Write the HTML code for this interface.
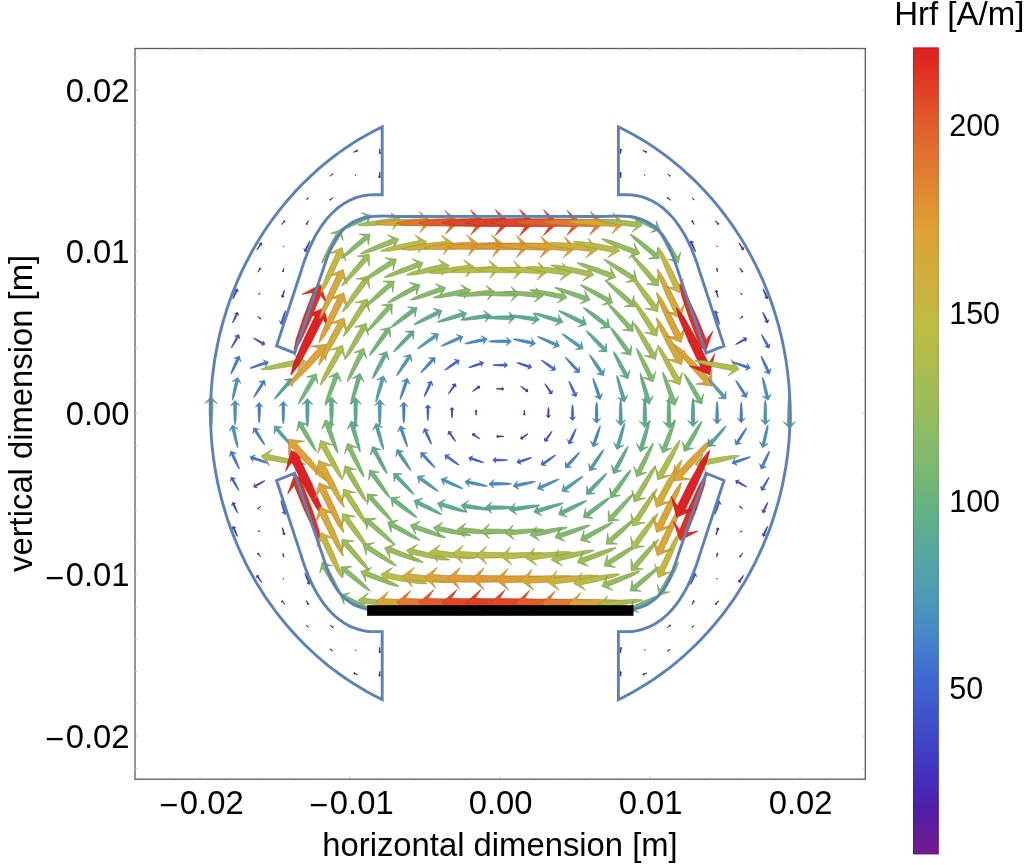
<!DOCTYPE html>
<html><head><meta charset="utf-8"><style>html,body{margin:0;padding:0;background:#fff;overflow:hidden}svg{display:block}</style></head><body>
<svg width="1025" height="865" viewBox="0 0 1025 865">
<rect width="1025" height="865" fill="#fff"/>
<g stroke-width="0.6" stroke-linejoin="round"><polygon points="211.0,396.4 217.2,403.5 212.9,400.9 212.8,412.6 212.2,424.0 211.2,428.8 210.8,428.8 209.8,424.0 209.2,412.6 209.1,400.9 204.8,403.5" fill="#66b284" stroke="#528f69"/><polygon points="232.9,526.3 235.8,527.7 234.1,527.5 235.7,531.1 237.0,534.7 237.4,536.3 237.2,536.4 236.3,535.0 234.5,531.6 232.9,528.0 232.0,529.4" fill="#3e3cb8" stroke="#2d2c87"/><polygon points="232.6,502.3 235.7,503.7 233.9,503.5 235.7,507.3 237.2,511.1 237.7,512.8 237.5,512.9 236.5,511.5 234.5,507.9 232.7,504.1 231.7,505.6" fill="#3e41bc" stroke="#2e308c"/><polygon points="231.3,477.1 235.5,478.7 233.1,478.6 235.8,483.4 238.2,488.3 239.0,490.5 238.8,490.6 237.3,488.8 234.4,484.3 231.6,479.5 230.4,481.5" fill="#405ccf" stroke="#334aa5"/><polygon points="230.9,451.1 236.2,453.5 233.1,453.2 236.1,459.6 238.7,466.1 239.4,469.0 239.1,469.1 237.4,466.7 234.1,460.6 231.1,454.1 229.4,456.7" fill="#447acd" stroke="#3662a4"/><polygon points="232.4,425.0 237.9,429.0 234.5,427.9 236.3,436.1 237.8,444.1 237.9,447.7 237.6,447.7 236.1,444.5 233.9,436.6 231.9,428.5 229.3,431.0" fill="#4b92bf" stroke="#3c7499"/><polygon points="235.1,400.4 239.7,405.7 236.5,403.8 236.4,412.6 236.0,421.2 235.2,424.8 235.0,424.8 234.2,421.2 233.8,412.6 233.7,403.8 230.5,405.7" fill="#4e97b8" stroke="#3e7993"/><polygon points="237.8,377.5 240.9,383.5 238.3,381.0 236.3,389.1 234.1,397.0 232.6,400.2 232.3,400.2 232.4,396.6 233.9,388.6 235.7,380.4 232.3,381.5" fill="#4b92bf" stroke="#3c7499"/><polygon points="239.3,356.1 240.8,361.7 239.1,359.1 236.1,365.6 232.8,371.7 231.1,374.1 230.8,374.0 231.5,371.1 234.1,364.6 237.1,358.2 234.0,358.5" fill="#447acd" stroke="#3662a4"/><polygon points="238.9,334.6 239.8,339.0 238.6,337.0 235.8,341.8 232.9,346.3 231.4,348.1 231.2,348.0 232.0,345.8 234.4,340.9 237.1,336.1 234.7,336.2" fill="#405ccf" stroke="#334aa5"/><polygon points="237.6,312.3 238.5,315.6 237.5,314.1 235.7,317.9 233.7,321.5 232.7,322.9 232.5,322.8 233.0,321.1 234.5,317.3 236.3,313.5 234.5,313.7" fill="#3e41bc" stroke="#2e308c"/><polygon points="237.3,288.8 238.2,291.9 237.3,290.5 235.7,294.1 233.9,297.5 233.0,298.9 232.8,298.8 233.2,297.2 234.5,293.6 236.1,290.0 234.4,290.2" fill="#3e3cb8" stroke="#2d2c87"/><polygon points="256.9,575.3 259.2,576.0 257.9,576.1 259.6,578.6 261.1,581.1 261.6,582.3 261.5,582.4 260.6,581.5 258.8,579.1 257.1,576.6 256.6,577.8" fill="#402aa9" stroke="#2c1d75"/><polygon points="257.8,553.1 259.2,553.4 258.4,553.5 259.4,554.9 260.3,556.4 260.7,557.1 260.6,557.1 260.1,556.6 259.0,555.3 257.9,553.8 257.6,554.5" fill="#4b198d" stroke="#301059"/><polygon points="258.3,530.8 258.9,530.7 258.6,530.8 259.3,531.2 259.9,531.7 260.1,531.9 260.1,531.9 259.8,531.8 259.1,531.5 258.5,531.1 258.5,531.4" fill="#5e1778" stroke="#370d46"/><polygon points="257.8,508.9 257.9,507.8 258.1,508.4 259.1,507.4 260.1,506.6 260.6,506.3 260.6,506.3 260.3,506.8 259.3,507.8 258.4,508.7 258.9,508.9" fill="#541884" stroke="#330f51"/><polygon points="253.6,487.0 254.8,483.5 254.8,485.5 258.8,483.2 262.9,481.2 264.8,480.6 264.9,480.7 263.4,482.0 259.6,484.5 255.5,486.8 257.3,487.8" fill="#3d4bc2" stroke="#2f3a95"/><polygon points="250.0,457.0 255.3,454.9 253.0,456.8 259.5,459.1 265.8,461.6 268.4,463.1 268.3,463.4 265.4,463.0 258.9,461.1 252.2,458.9 252.9,461.8" fill="#4378cf" stroke="#3660a5"/><polygon points="253.8,427.8 259.4,429.5 256.3,429.6 260.1,435.8 263.6,442.0 264.7,444.8 264.5,445.0 262.4,442.7 258.3,436.9 254.3,430.8 252.9,433.6" fill="#457ecc" stroke="#3765a3"/><polygon points="259.2,402.5 263.0,406.9 260.4,405.3 260.3,412.6 259.9,419.7 259.3,422.7 259.1,422.7 258.5,419.7 258.1,412.6 258.0,405.3 255.4,406.9" fill="#457ecc" stroke="#3765a3"/><polygon points="264.6,380.3 265.5,386.1 264.1,383.3 260.1,389.4 256.0,395.2 253.9,397.5 253.7,397.3 254.8,394.5 258.3,388.3 262.1,382.1 259.0,382.0" fill="#457ecc" stroke="#3765a3"/><polygon points="268.4,362.0 265.5,366.8 266.2,363.9 259.5,366.1 253.0,368.0 250.1,368.4 250.0,368.1 252.6,366.6 258.9,364.1 265.4,361.8 263.1,359.9" fill="#4378cf" stroke="#3660a5"/><polygon points="264.8,344.5 261.1,345.3 262.9,344.3 258.8,342.0 255.0,339.5 253.5,338.2 253.6,338.1 255.5,338.7 259.6,340.7 263.6,343.0 263.6,341.0" fill="#3d4bc2" stroke="#2f3a95"/><polygon points="260.6,318.9 259.5,318.9 260.0,318.7 259.1,317.8 258.1,316.8 257.8,316.3 257.8,316.3 258.3,316.6 259.3,317.4 260.3,318.4 260.5,317.8" fill="#541884" stroke="#330f51"/><polygon points="260.1,293.3 259.9,293.9 259.9,293.6 259.3,294.0 258.6,294.3 258.3,294.4 258.3,294.4 258.5,294.2 259.1,293.7 259.8,293.3 259.5,293.2" fill="#5e1778" stroke="#370d46"/><polygon points="260.6,268.1 260.8,269.5 260.5,268.8 259.4,270.3 258.3,271.6 257.8,272.1 257.7,272.1 258.1,271.4 259.0,269.9 260.0,268.5 259.2,268.4" fill="#4b198d" stroke="#301059"/><polygon points="261.5,242.8 261.8,245.3 261.3,244.1 259.6,246.6 257.8,249.0 256.9,249.9 256.8,249.8 257.3,248.6 258.8,246.1 260.5,243.6 259.2,243.5" fill="#402aa9" stroke="#2c1d75"/><polygon points="281.7,600.8 283.1,601.0 282.3,601.1 283.5,602.4 284.6,603.7 285.0,604.3 284.9,604.4 284.3,603.9 283.1,602.8 281.9,601.5 281.7,602.2" fill="#4d198c" stroke="#301058"/><polygon points="282.8,579.0 283.0,578.7 282.9,578.9 283.3,578.8 283.6,578.7 283.8,578.7 283.8,578.7 283.7,578.8 283.3,578.9 283.0,579.0 283.1,579.1" fill="#5e1674" stroke="#360c42"/><polygon points="283.6,557.0 282.8,556.3 283.3,556.5 283.1,555.1 282.9,553.8 283.0,553.2 283.0,553.2 283.2,553.7 283.5,555.1 283.8,556.4 284.2,556.0" fill="#531885" stroke="#330f52"/><polygon points="284.3,535.0 282.5,533.8 283.6,534.1 282.9,531.5 282.3,528.8 282.2,527.7 282.3,527.7 282.9,528.7 283.7,531.2 284.5,533.9 285.3,533.0" fill="#4125a3" stroke="#2c196e"/><polygon points="285.5,514.6 281.9,512.3 284.1,512.9 282.5,507.8 281.2,502.9 281.0,500.7 281.1,500.6 282.2,502.6 284.1,507.4 285.7,512.4 287.2,510.6" fill="#3f57cb" stroke="#3245a1"/><polygon points="261.2,455.9 272.5,449.3 267.9,454.5 283.8,457.7 299.1,461.5 305.5,464.1 305.4,464.6 298.5,464.7 282.8,462.5 266.9,459.6 269.3,466.1" fill="#adbd4f" stroke="#8a973f"/><polygon points="274.4,426.1 282.2,427.2 278.1,427.9 284.4,435.4 290.3,442.9 292.3,446.5 292.1,446.7 288.8,444.2 282.2,437.3 275.7,430.0 274.4,434.0" fill="#54a3a7" stroke="#438286"/><polygon points="283.3,401.4 287.6,406.3 284.6,404.5 284.5,412.6 284.1,420.5 283.4,423.8 283.2,423.8 282.5,420.5 282.1,412.6 282.0,404.5 279.0,406.3" fill="#498dc4" stroke="#3a719d"/><polygon points="292.2,378.6 292.2,386.5 290.9,382.5 284.4,389.8 277.8,396.7 274.5,399.2 274.3,399.0 276.3,395.4 282.2,387.9 288.5,380.4 284.4,379.7" fill="#54a3a7" stroke="#438286"/><polygon points="305.4,360.9 297.3,371.1 299.7,364.6 283.8,367.5 268.1,369.7 261.2,369.6 261.1,369.1 267.5,366.5 282.8,362.7 298.7,359.5 294.1,354.3" fill="#adbd4f" stroke="#8a973f"/><polygon points="281.1,324.6 279.4,320.6 280.9,322.4 282.5,317.4 284.4,312.6 285.5,310.6 285.6,310.7 285.4,312.9 284.1,317.8 282.5,322.9 284.7,322.3" fill="#3f57cb" stroke="#3245a1"/><polygon points="282.3,297.5 281.3,295.5 282.1,296.4 282.9,293.7 283.7,291.2 284.3,290.2 284.4,290.2 284.3,291.3 283.7,294.0 283.0,296.6 284.1,296.3" fill="#4125a3" stroke="#2c196e"/><polygon points="283.0,272.0 282.4,271.0 282.8,271.4 283.1,270.1 283.4,268.7 283.6,268.2 283.6,268.2 283.7,268.8 283.5,270.1 283.3,271.5 283.8,271.3" fill="#531885" stroke="#330f52"/><polygon points="283.8,246.5 283.5,246.6 283.6,246.5 283.3,246.4 282.9,246.3 282.8,246.2 282.8,246.2 283.0,246.2 283.3,246.3 283.7,246.4 283.6,246.2" fill="#5e1674" stroke="#360c42"/><polygon points="284.9,220.8 284.9,222.2 284.7,221.5 283.5,222.8 282.3,223.9 281.7,224.4 281.6,224.3 282.0,223.7 283.1,222.4 284.3,221.1 283.5,221.0" fill="#4d198c" stroke="#301058"/><polygon points="306.4,625.4 307.2,625.4 306.8,625.6 307.5,626.2 308.2,626.9 308.5,627.3 308.4,627.3 308.1,627.1 307.3,626.5 306.5,625.8 306.5,626.2" fill="#5a177d" stroke="#360e4a"/><polygon points="308.4,604.6 307.2,604.1 307.9,604.2 307.2,602.7 306.5,601.3 306.4,600.6 306.4,600.6 306.8,601.1 307.6,602.5 308.4,603.9 308.7,603.3" fill="#4e198a" stroke="#311056"/><polygon points="309.9,584.4 306.7,582.9 308.6,583.1 306.8,579.1 305.2,575.1 304.8,573.3 305.0,573.3 306.0,574.8 308.0,578.6 309.9,582.6 310.9,581.0" fill="#3e45be" stroke="#2e348f"/><polygon points="294.4,474.7 312.6,484.2 301.8,482.4 311.0,506.2 318.9,529.7 320.8,540.3 320.0,540.6 314.2,531.5 303.8,509.0 294.2,485.4 287.6,494.1" fill="#e03024" stroke="#b3271d"/><polygon points="291.0,450.5 310.9,459.0 299.5,458.0 311.1,482.1 321.2,506.0 324.1,517.0 323.4,517.3 316.4,508.3 303.7,485.6 291.8,461.8 285.6,471.4" fill="#dc2222" stroke="#b01b1b"/><polygon points="288.4,439.2 304.7,441.2 296.1,442.9 309.7,458.0 322.2,473.3 326.7,480.8 326.2,481.2 319.2,476.1 305.1,462.2 291.3,447.3 288.8,455.6" fill="#dea236" stroke="#b2812b"/><polygon points="298.6,421.3 308.2,424.6 302.8,424.5 309.1,435.4 314.6,446.3 316.4,451.3 316.0,451.5 312.5,447.5 305.7,437.3 299.3,426.5 296.8,431.2" fill="#73b877" stroke="#5c935f"/><polygon points="307.4,398.4 312.8,404.7 309.0,402.4 309.0,412.6 308.4,422.5 307.6,426.8 307.2,426.8 306.4,422.5 305.8,412.6 305.8,402.4 302.0,404.7" fill="#57a79f" stroke="#45857f"/><polygon points="316.2,373.8 318.0,383.7 315.5,379.0 309.1,389.8 302.3,400.0 298.8,404.0 298.4,403.8 300.2,398.8 305.7,387.9 312.0,377.0 306.6,377.1" fill="#73b877" stroke="#5c935f"/><polygon points="326.4,344.2 326.0,360.6 323.5,352.3 309.7,367.2 295.6,381.1 288.6,386.2 288.1,385.8 292.6,378.3 305.1,363.0 318.7,347.9 310.1,346.2" fill="#dea236" stroke="#b2812b"/><polygon points="323.8,308.0 329.2,328.9 323.0,319.3 311.1,343.1 298.4,365.8 291.4,374.8 290.7,374.5 293.6,363.5 303.7,339.6 315.3,315.5 303.9,316.5" fill="#dc2222" stroke="#b01b1b"/><polygon points="320.4,284.7 327.2,304.1 320.6,295.4 311.0,319.0 300.6,341.5 294.8,350.6 294.0,350.3 295.9,339.7 303.8,316.2 313.0,292.4 302.2,294.2" fill="#e03024" stroke="#b3271d"/><polygon points="304.9,251.9 303.9,248.5 304.9,250.1 306.8,246.1 308.8,242.3 309.8,240.8 310.0,240.8 309.6,242.6 308.0,246.6 306.2,250.6 308.1,250.4" fill="#3e45be" stroke="#2e348f"/><polygon points="306.4,224.6 306.1,223.3 306.4,223.9 307.2,222.5 308.0,221.1 308.4,220.6 308.4,220.6 308.3,221.3 307.6,222.7 306.9,224.2 307.6,224.1" fill="#4e198a" stroke="#311056"/><polygon points="308.4,197.9 308.3,198.7 308.3,198.3 307.5,199.0 306.7,199.6 306.4,199.8 306.3,199.8 306.6,199.4 307.3,198.7 308.0,198.1 307.6,197.9" fill="#5a177d" stroke="#360e4a"/><polygon points="330.2,649.1 331.2,649.0 330.7,649.2 331.6,650.0 332.5,650.7 332.8,651.1 332.7,651.2 332.3,650.9 331.4,650.2 330.5,649.5 330.4,650.0" fill="#571880" stroke="#350e4d"/><polygon points="333.2,627.5 332.0,627.6 332.6,627.4 331.4,626.5 330.3,625.6 329.8,625.2 329.9,625.1 330.4,625.4 331.6,626.2 332.8,627.0 332.9,626.4" fill="#521886" stroke="#320f53"/><polygon points="322.0,562.1 332.5,565.9 326.6,565.7 333.3,577.8 339.4,589.9 341.2,595.4 340.8,595.7 337.0,591.2 329.7,579.9 322.7,567.9 319.8,573.1" fill="#8abb66" stroke="#6f9652"/><polygon points="321.0,532.5 334.2,538.5 326.5,537.6 334.0,553.9 340.5,570.1 342.3,577.6 341.8,577.8 337.2,571.7 329.0,556.3 321.3,540.1 317.0,546.5" fill="#c4b841" stroke="#9c9334"/><polygon points="319.9,506.9 334.3,513.2 326.0,512.4 334.2,530.1 341.4,547.6 343.4,555.7 342.8,555.9 337.9,549.3 328.8,532.6 320.3,515.1 315.7,522.1" fill="#d5a93a" stroke="#aa872e"/><polygon points="319.2,482.7 334.1,489.0 325.5,488.3 334.2,506.3 341.9,524.1 344.1,532.3 343.5,532.6 338.3,525.9 328.8,508.9 319.8,491.1 315.2,498.3" fill="#daa538" stroke="#ae842c"/><polygon points="318.8,460.4 333.3,465.9 325.1,465.5 334.1,482.5 342.1,499.4 344.4,507.2 343.9,507.5 338.7,501.2 328.9,485.2 319.7,468.4 315.5,475.5" fill="#d2ac3b" stroke="#a8892f"/><polygon points="320.4,440.3 332.8,444.8 325.8,444.5 333.7,458.9 340.7,473.2 342.8,479.8 342.3,480.1 337.8,474.8 329.3,461.3 321.2,447.1 317.8,453.2" fill="#afbd4d" stroke="#8c973e"/><polygon points="325.3,419.7 334.4,424.7 329.0,423.6 333.3,435.7 337.0,447.6 337.9,452.9 337.5,453.1 334.6,448.5 329.7,437.0 325.1,425.1 321.7,429.4" fill="#78b973" stroke="#60945c"/><polygon points="331.5,396.9 337.4,403.8 333.3,401.3 333.2,412.6 332.6,423.6 331.7,428.3 331.3,428.3 330.4,423.6 329.8,412.6 329.7,401.3 325.6,403.8" fill="#60b08a" stroke="#4d8c6f"/><polygon points="337.7,372.2 341.3,381.9 337.9,377.6 333.3,389.5 328.4,401.0 325.5,405.6 325.1,405.4 326.0,400.1 329.7,388.2 334.0,376.1 328.6,377.2" fill="#78b973" stroke="#60945c"/><polygon points="342.6,345.3 345.2,358.2 341.8,352.1 333.7,366.3 325.2,379.8 320.7,385.1 320.2,384.8 322.3,378.2 329.3,363.9 337.2,349.5 330.2,349.8" fill="#afbd4d" stroke="#8c973e"/><polygon points="344.2,317.9 347.5,333.0 343.3,325.9 334.1,342.7 324.3,358.7 319.1,365.0 318.6,364.7 320.9,356.9 328.9,340.0 337.9,323.0 329.7,323.4" fill="#d2ac3b" stroke="#a8892f"/><polygon points="343.8,292.7 347.8,308.3 343.2,301.1 334.2,318.9 324.7,335.9 319.5,342.6 318.9,342.3 321.1,334.1 328.8,316.3 337.5,298.3 328.9,299.0" fill="#daa538" stroke="#ae842c"/><polygon points="343.1,269.4 347.3,284.6 342.7,277.6 334.2,295.1 325.1,311.8 320.2,318.4 319.6,318.2 321.6,310.1 328.8,292.6 337.0,274.9 328.7,275.7" fill="#d5a93a" stroke="#aa872e"/><polygon points="342.0,247.5 346.0,261.5 341.7,255.1 334.0,271.3 325.8,286.7 321.2,292.8 320.7,292.6 322.5,285.1 329.0,268.9 336.5,252.6 328.8,253.5" fill="#c4b841" stroke="#9c9334"/><polygon points="341.0,229.6 343.2,240.6 340.3,235.4 333.3,247.4 326.0,258.7 322.2,263.2 321.8,262.9 323.6,257.4 329.7,245.3 336.4,233.2 330.5,233.4" fill="#8abb66" stroke="#6f9652"/><polygon points="329.8,200.0 330.1,198.9 330.2,199.5 331.4,198.7 332.6,197.9 333.1,197.6 333.2,197.7 332.7,198.1 331.6,199.0 330.4,199.9 331.0,200.1" fill="#521886" stroke="#320f53"/><polygon points="332.8,174.1 332.6,175.0 332.5,174.5 331.6,175.2 330.7,175.9 330.3,176.2 330.2,176.1 330.5,175.7 331.4,175.0 332.3,174.2 331.8,174.0" fill="#571880" stroke="#350e4d"/><polygon points="353.6,673.0 354.8,672.6 354.2,673.0 355.7,673.6 357.1,674.3 357.6,674.6 357.6,674.7 357.0,674.6 355.5,674.1 354.1,673.5 354.2,674.2" fill="#501988" stroke="#320f55"/><polygon points="356.0,650.6 355.6,650.5 355.8,650.5 355.5,650.1 355.3,649.8 355.2,649.6 355.2,649.6 355.4,649.8 355.7,650.1 355.9,650.4 356.0,650.2" fill="#5f1675" stroke="#360d42"/><polygon points="340.2,595.3 349.8,592.7 345.4,595.5 356.4,600.9 366.9,606.6 371.1,609.7 370.9,610.1 365.8,608.8 354.8,604.3 343.7,599.1 344.2,604.3" fill="#6fb67b" stroke="#599262"/><polygon points="341.1,566.7 352.1,566.5 346.6,568.4 356.9,577.3 366.6,586.3 370.3,590.8 370.0,591.2 364.9,588.4 354.3,580.4 343.7,571.8 342.8,577.5" fill="#86bb69" stroke="#6c9554"/><polygon points="341.9,539.3 353.9,541.1 347.6,542.2 357.3,553.6 366.3,565.1 369.5,570.7 369.1,571.0 364.0,567.1 353.9,556.6 343.9,545.3 341.9,551.5" fill="#9cbc5a" stroke="#7d9748"/><polygon points="342.6,513.5 355.1,516.4 348.3,517.0 357.6,529.9 366.0,542.9 368.8,549.1 368.4,549.4 363.4,544.8 353.6,532.8 344.2,520.0 341.5,526.3" fill="#a9bd52" stroke="#879741"/><polygon points="343.5,489.0 355.9,492.6 349.0,492.8 357.6,506.3 365.4,519.8 368.0,526.1 367.5,526.4 362.8,521.5 353.6,508.9 344.7,495.6 341.7,501.8" fill="#aabd51" stroke="#889741"/><polygon points="344.9,465.7 356.5,469.6 350.0,469.6 357.6,482.7 364.4,495.8 366.6,501.8 366.1,502.1 361.8,497.3 353.6,485.0 345.8,472.0 342.7,477.8" fill="#9ebc59" stroke="#7f9747"/><polygon points="347.3,443.3 357.3,447.6 351.6,447.1 357.4,459.2 362.6,471.3 364.1,476.8 363.7,477.0 360.2,472.4 353.8,461.0 347.7,449.0 344.6,453.8" fill="#84ba6b" stroke="#699555"/><polygon points="351.1,420.9 358.9,426.0 354.1,424.7 357.3,435.9 359.9,446.9 360.3,451.8 359.9,451.9 357.7,447.5 353.9,436.8 350.5,425.7 347.2,429.4" fill="#65b285" stroke="#518e6b"/><polygon points="355.6,397.6 361.3,404.2 357.3,401.8 357.2,412.6 356.7,423.1 355.8,427.6 355.4,427.6 354.5,423.1 354.0,412.6 353.9,401.8 349.9,404.2" fill="#5aac93" stroke="#488976"/><polygon points="360.1,373.4 364.0,381.9 360.7,378.2 357.3,389.3 353.5,400.0 351.3,404.4 350.9,404.3 351.3,399.4 353.9,388.4 357.1,377.2 352.3,378.5" fill="#65b285" stroke="#518e6b"/><polygon points="363.9,348.3 366.6,358.8 363.5,354.0 357.4,366.0 351.0,377.4 347.5,382.0 347.1,381.8 348.6,376.3 353.8,364.2 359.6,352.1 353.9,352.6" fill="#84ba6b" stroke="#699555"/><polygon points="366.3,323.2 368.5,335.3 365.4,329.5 357.6,342.5 349.4,354.8 345.1,359.6 344.6,359.3 346.8,353.3 353.6,340.2 361.2,327.1 354.7,327.1" fill="#9ebc59" stroke="#7f9747"/><polygon points="367.7,299.0 369.5,311.8 366.5,305.6 357.6,318.9 348.4,331.5 343.7,336.4 343.2,336.1 345.8,329.8 353.6,316.3 362.2,302.8 355.3,302.6" fill="#aabd51" stroke="#889741"/><polygon points="368.6,276.0 369.7,288.8 367.0,282.5 357.6,295.3 347.8,307.3 342.8,311.9 342.4,311.6 345.2,305.4 353.6,292.4 362.9,279.5 356.1,278.9" fill="#a9bd52" stroke="#879741"/><polygon points="369.3,254.3 369.3,266.5 367.3,260.3 357.3,271.6 347.2,282.1 342.1,286.0 341.7,285.7 344.9,280.1 353.9,268.6 363.6,257.2 357.3,256.1" fill="#9cbc5a" stroke="#7d9748"/><polygon points="370.1,234.2 368.4,245.0 367.5,239.3 356.9,247.9 346.3,255.9 341.2,258.7 340.9,258.3 344.6,253.8 354.3,244.8 364.6,235.9 359.1,234.0" fill="#86bb69" stroke="#6c9554"/><polygon points="371.0,215.3 367.0,224.3 367.5,219.1 356.4,224.3 345.4,228.8 340.3,230.1 340.1,229.7 344.3,226.6 354.8,220.9 365.8,215.5 361.4,212.7" fill="#6fb67b" stroke="#599262"/><polygon points="355.2,175.6 355.2,175.2 355.3,175.4 355.5,175.1 355.8,174.8 356.0,174.6 356.0,174.6 355.9,174.8 355.7,175.1 355.4,175.5 355.6,175.5" fill="#5f1675" stroke="#360d42"/><polygon points="357.6,150.5 357.0,151.7 357.1,151.0 355.7,151.6 354.2,152.1 353.6,152.2 353.6,152.1 354.1,151.8 355.5,151.1 357.0,150.5 356.4,150.1" fill="#501988" stroke="#320f55"/><polygon points="379.2,697.5 379.5,697.4 379.4,697.5 379.7,697.5 380.0,697.6 380.2,697.7 380.2,697.7 380.0,697.7 379.7,697.7 379.3,697.6 379.4,697.7" fill="#5e1674" stroke="#350c42"/><polygon points="379.5,676.4 378.6,675.2 379.3,675.6 379.4,673.8 379.7,672.1 379.9,671.3 379.9,671.3 380.0,672.1 380.0,673.9 379.8,675.7 380.5,675.3" fill="#4b198e" stroke="#2f105a"/><polygon points="379.9,653.0 378.7,651.8 379.5,652.2 379.4,650.1 379.4,648.1 379.5,647.2 379.6,647.2 379.8,648.0 380.0,650.1 380.1,652.2 380.9,651.7" fill="#451a94" stroke="#2d1160"/><polygon points="357.9,600.1 368.5,592.9 364.3,598.3 380.0,600.2 395.1,602.8 401.5,604.8 401.4,605.3 394.8,605.9 379.4,605.0 363.7,603.3 366.6,609.5" fill="#a7bd53" stroke="#859742"/><polygon points="360.7,571.4 371.9,567.4 366.9,571.3 380.5,576.8 393.6,582.7 398.8,586.1 398.6,586.6 392.5,585.5 378.9,580.9 365.1,575.7 366.2,581.9" fill="#98bc5d" stroke="#79974a"/><polygon points="363.0,544.3 374.5,542.7 368.9,545.4 380.9,553.3 392.2,561.4 396.5,565.7 396.3,566.1 390.6,563.8 378.5,556.9 366.4,549.3 366.3,555.4" fill="#92bc61" stroke="#75964d"/><polygon points="365.1,518.5 376.4,518.6 370.7,520.4 381.1,529.7 390.8,539.3 394.4,544.0 394.1,544.4 389.0,541.4 378.3,533.0 367.7,523.8 366.7,529.7" fill="#8dbc64" stroke="#719650"/><polygon points="367.2,493.8 377.9,495.1 372.3,496.2 381.2,506.2 389.5,516.4 392.4,521.3 392.0,521.6 387.5,518.2 378.2,509.0 369.1,499.1 367.4,504.6" fill="#83ba6b" stroke="#699556"/><polygon points="369.5,469.9 379.3,472.2 374.0,472.6 381.2,482.7 387.8,492.9 390.0,497.7 389.7,498.0 385.8,494.4 378.2,485.0 370.8,474.9 368.7,479.9" fill="#72b778" stroke="#5b9260"/><polygon points="372.4,446.5 380.8,449.7 376.0,449.4 381.2,459.3 385.8,469.1 387.1,473.7 386.8,473.8 383.8,470.2 378.2,460.9 372.9,451.1 370.4,455.2" fill="#5eaf8c" stroke="#4b8c70"/><polygon points="375.9,423.2 382.6,427.5 378.5,426.4 381.1,435.9 383.3,445.3 383.7,449.5 383.4,449.6 381.4,445.9 378.3,436.8 375.4,427.3 372.6,430.4" fill="#55a4a5" stroke="#448384"/><polygon points="379.7,399.6 384.6,405.3 381.2,403.3 381.1,412.6 380.6,421.7 379.9,425.6 379.5,425.6 378.8,421.7 378.3,412.6 378.2,403.3 374.8,405.3" fill="#519faf" stroke="#417f8c"/><polygon points="383.5,375.7 386.8,382.9 384.0,379.8 381.1,389.3 378.0,398.4 376.0,402.1 375.7,402.0 376.1,397.8 378.3,388.4 380.9,378.9 376.8,380.0" fill="#55a4a5" stroke="#448384"/><polygon points="387.0,351.5 389.0,360.2 386.5,356.1 381.2,365.9 375.6,375.2 372.6,378.8 372.3,378.7 373.6,374.1 378.2,364.3 383.4,354.4 378.6,354.7" fill="#5eaf8c" stroke="#4b8c70"/><polygon points="389.9,327.4 390.7,337.4 388.6,332.4 381.2,342.5 373.6,351.9 369.7,355.5 369.4,355.2 371.6,350.4 378.2,340.2 385.4,330.1 380.1,329.7" fill="#72b778" stroke="#5b9260"/><polygon points="392.2,303.8 392.0,314.6 390.3,309.1 381.2,319.0 371.9,328.2 367.4,331.6 367.0,331.3 369.9,326.4 378.2,316.2 387.1,306.2 381.5,305.1" fill="#83ba6b" stroke="#699556"/><polygon points="394.3,281.0 392.7,292.2 391.7,286.3 381.1,295.5 370.4,303.9 365.3,306.9 365.0,306.5 368.6,301.8 378.3,292.2 388.7,282.9 383.0,281.1" fill="#8dbc64" stroke="#719650"/><polygon points="396.4,259.3 393.1,270.4 393.0,264.3 380.9,271.9 368.8,278.8 363.1,281.1 362.9,280.7 367.2,276.4 378.5,268.3 390.5,260.4 384.9,257.7" fill="#92bc61" stroke="#75964d"/><polygon points="398.7,238.9 393.2,249.4 394.3,243.2 380.5,248.4 366.9,253.0 360.8,254.1 360.6,253.6 365.8,250.2 378.9,244.3 392.5,238.8 387.5,234.9" fill="#98bc5d" stroke="#79974a"/><polygon points="401.5,220.1 392.8,229.5 395.7,223.3 380.0,225.0 364.6,225.9 358.0,225.3 357.9,224.8 364.3,222.8 379.4,220.2 395.1,218.3 390.9,212.9" fill="#a7bd53" stroke="#859742"/><polygon points="379.5,178.0 378.5,176.7 379.3,177.2 379.4,175.1 379.6,173.0 379.8,172.2 379.9,172.2 380.0,173.1 380.0,175.1 379.9,177.2 380.7,176.8" fill="#451a94" stroke="#2d1160"/><polygon points="379.9,153.9 378.9,152.8 379.6,153.2 379.4,151.4 379.4,149.6 379.5,148.8 379.5,148.8 379.7,149.6 380.0,151.3 380.1,153.1 380.8,152.7" fill="#4b198e" stroke="#2f105a"/><polygon points="375.9,601.6 388.5,591.5 383.8,598.7 403.9,599.5 423.4,601.3 431.7,603.2 431.7,603.9 423.3,605.3 403.7,605.7 383.6,605.1 387.8,612.7" fill="#dba437" stroke="#b0832c"/><polygon points="380.8,574.3 392.7,567.5 387.8,572.9 404.3,576.3 420.2,580.4 426.9,583.2 426.8,583.7 419.6,583.7 403.3,581.4 386.7,578.2 389.2,585.0" fill="#b7bd48" stroke="#92973a"/><polygon points="384.5,547.8 395.7,543.7 390.7,547.6 404.6,553.0 417.9,558.8 423.2,562.1 423.1,562.6 416.8,561.6 403.0,557.2 389.0,552.1 390.2,558.4" fill="#9abc5b" stroke="#7b9749"/><polygon points="387.6,522.3 398.2,520.1 393.2,523.0 404.8,529.6 415.8,536.5 420.1,540.2 419.9,540.6 414.5,538.8 402.8,533.1 391.1,526.7 391.3,532.4" fill="#81ba6c" stroke="#679557"/><polygon points="390.6,497.5 400.2,496.9 395.4,498.8 404.9,506.1 413.8,513.7 417.1,517.5 416.9,517.8 412.3,515.6 402.7,509.1 393.1,501.9 392.6,507.0" fill="#6ab480" stroke="#559066"/><polygon points="393.6,473.3 402.1,474.1 397.7,475.1 405.0,482.7 411.7,490.5 414.1,494.3 413.9,494.5 410.2,492.0 402.6,485.0 395.2,477.5 394.1,481.8" fill="#59aa97" stroke="#478879"/><polygon points="396.8,449.5 403.9,451.5 400.0,451.7 405.0,459.3 409.5,467.0 411.0,470.6 410.7,470.8 408.0,468.0 402.6,460.9 397.5,453.3 395.8,456.8" fill="#509cb2" stroke="#407d8f"/><polygon points="400.2,425.8 405.8,429.1 402.4,428.4 405.0,436.0 407.1,443.5 407.5,446.8 407.3,446.9 405.6,444.0 402.6,436.7 400.0,429.2 397.8,431.8" fill="#488cc5" stroke="#3a709e"/><polygon points="403.8,402.1 407.8,406.7 405.0,405.1 405.0,412.6 404.6,419.9 403.9,423.1 403.7,423.1 403.0,419.9 402.6,412.6 402.6,405.1 399.8,406.7" fill="#4684ca" stroke="#3869a2"/><polygon points="407.4,378.3 409.8,384.3 407.6,381.7 405.0,389.2 402.0,396.5 400.3,399.4 400.1,399.3 400.5,396.0 402.6,388.5 405.2,380.9 401.8,381.6" fill="#488cc5" stroke="#3a709e"/><polygon points="410.8,354.5 411.8,361.8 410.1,358.3 405.0,365.9 399.6,373.0 396.9,375.8 396.6,375.6 398.1,372.0 402.6,364.3 407.6,356.7 403.7,356.5" fill="#509cb2" stroke="#407d8f"/><polygon points="414.0,330.8 413.5,339.3 412.4,335.0 405.0,342.5 397.4,349.5 393.7,352.0 393.5,351.8 395.9,348.0 402.6,340.2 409.9,332.6 405.5,331.6" fill="#59aa97" stroke="#478879"/><polygon points="417.0,307.5 415.0,317.0 414.5,311.9 404.9,319.1 395.3,325.6 390.7,327.8 390.5,327.5 393.8,323.7 402.7,316.1 412.2,308.8 407.4,306.9" fill="#6ab480" stroke="#559066"/><polygon points="420.0,284.8 416.3,294.9 416.5,289.2 404.8,295.6 393.1,301.3 387.7,303.1 387.5,302.7 391.8,299.0 402.8,292.1 414.4,285.5 409.4,282.6" fill="#81ba6c" stroke="#679557"/><polygon points="423.1,262.8 417.4,273.4 418.6,267.1 404.6,272.2 390.8,276.6 384.5,277.6 384.4,277.1 389.7,273.8 403.0,268.0 416.9,262.6 411.9,258.7" fill="#9abc5b" stroke="#7b9749"/><polygon points="426.8,241.8 418.4,252.5 420.9,245.7 404.3,248.9 388.0,251.2 380.8,251.2 380.7,250.7 387.4,247.9 403.3,243.8 419.8,240.4 414.9,235.0" fill="#b7bd48" stroke="#92973a"/><polygon points="431.7,221.6 419.8,232.7 424.0,225.1 403.9,225.7 384.3,225.3 375.9,223.9 375.9,223.2 384.2,221.3 403.7,219.5 423.8,218.7 419.1,211.5" fill="#dba437" stroke="#b0832c"/><polygon points="396.8,601.9 410.7,590.4 405.6,598.5 428.0,599.2 449.7,600.8 459.0,602.9 459.0,603.7 449.6,605.3 427.8,606.0 405.4,605.7 410.2,614.0" fill="#e17a30" stroke="#b46126"/><polygon points="402.1,575.9 414.5,567.4 409.6,573.8 428.2,576.0 446.2,579.0 453.8,581.5 453.7,582.1 445.8,582.8 427.6,581.7 409.0,579.7 412.3,587.0" fill="#ccb03d" stroke="#a38d31"/><polygon points="406.5,550.3 417.7,544.3 413.0,549.2 428.4,552.7 443.2,556.9 449.4,559.6 449.3,560.1 442.6,560.0 427.4,557.5 411.9,554.1 414.1,560.6" fill="#a7bd53" stroke="#869742"/><polygon points="410.3,525.2 420.4,521.2 416.0,524.9 428.6,529.4 440.6,534.4 445.5,537.3 445.4,537.7 439.7,536.9 427.2,533.3 414.5,529.0 415.7,534.6" fill="#82ba6c" stroke="#689556"/><polygon points="413.9,500.6 422.7,498.3 418.6,500.9 428.7,506.1 438.2,511.5 442.0,514.5 441.8,514.8 437.2,513.5 427.1,509.1 417.0,504.2 417.4,509.0" fill="#60b08a" stroke="#4d8c6f"/><polygon points="417.4,476.3 424.9,475.6 421.2,477.2 428.7,482.7 435.8,488.4 438.5,491.2 438.4,491.5 434.7,489.9 427.1,485.0 419.4,479.7 419.1,483.6" fill="#519fb0" stroke="#417f8d"/><polygon points="420.8,452.4 426.9,453.1 423.7,453.7 428.8,459.3 433.4,465.0 435.1,467.8 434.9,467.9 432.3,466.0 427.0,460.9 421.9,455.4 421.0,458.5" fill="#4684ca" stroke="#386aa2"/><polygon points="424.3,428.5 428.9,430.6 426.2,430.3 428.8,436.0 431.0,441.6 431.6,444.1 431.4,444.2 429.8,442.1 427.0,436.7 424.4,431.1 422.9,433.3" fill="#4067d3" stroke="#3352a9"/><polygon points="427.9,404.8 430.9,408.2 428.8,407.0 428.8,412.6 428.5,418.1 428.0,420.4 427.8,420.4 427.3,418.1 427.0,412.6 427.0,407.0 424.9,408.2" fill="#405dcf" stroke="#334ba6"/><polygon points="431.5,381.0 432.9,385.8 431.4,383.6 428.8,389.2 426.0,394.6 424.4,396.7 424.2,396.6 424.8,394.1 427.0,388.5 429.6,382.8 426.9,383.1" fill="#4067d3" stroke="#3352a9"/><polygon points="435.0,357.4 434.8,363.5 433.9,360.4 428.8,365.9 423.5,371.0 420.9,372.9 420.7,372.8 422.4,370.0 427.0,364.3 432.1,358.7 428.9,358.1" fill="#4684ca" stroke="#386aa2"/><polygon points="438.4,333.8 436.7,341.1 436.4,337.2 428.7,342.5 421.1,347.4 417.4,349.0 417.3,348.7 420.0,345.9 427.1,340.2 434.6,334.7 430.9,333.1" fill="#519fb0" stroke="#417f8d"/><polygon points="441.9,310.6 438.4,319.0 438.8,314.2 428.7,319.1 418.6,323.5 414.0,324.8 413.8,324.5 417.6,321.5 427.1,316.1 437.2,310.9 433.1,308.3" fill="#60b08a" stroke="#4d8c6f"/><polygon points="445.5,287.7 440.1,297.1 441.3,291.5 428.6,295.8 416.1,299.4 410.4,300.2 410.3,299.8 415.2,296.9 427.2,291.9 439.8,287.4 435.4,283.7" fill="#82ba6c" stroke="#689556"/><polygon points="449.3,265.3 441.7,275.6 443.9,269.1 428.4,272.5 413.2,275.0 406.5,275.1 406.4,274.6 412.6,271.9 427.4,267.7 442.8,264.2 438.1,259.3" fill="#a7bd53" stroke="#869742"/><polygon points="453.7,243.4 443.5,254.5 446.8,247.2 428.2,249.2 410.0,250.3 402.1,249.6 402.0,249.0 409.6,246.5 427.6,243.5 446.2,241.3 441.3,234.9" fill="#ccb03d" stroke="#a38d31"/><polygon points="459.0,221.9 445.6,234.0 450.4,225.7 428.0,226.0 406.2,225.3 396.8,223.7 396.8,222.9 406.1,220.8 427.8,219.2 450.2,218.5 445.1,210.4" fill="#e17a30" stroke="#b46126"/><polygon points="418.9,602.2 433.6,589.8 428.2,598.5 452.0,599.0 475.2,600.5 485.1,602.6 485.1,603.4 475.1,605.3 452.0,606.2 428.1,606.1 433.3,614.9" fill="#e25c2b" stroke="#b54923"/><polygon points="424.3,577.1 437.2,567.4 432.3,574.4 452.2,575.8 471.5,578.1 479.7,580.3 479.6,580.9 471.2,582.1 451.8,581.9 431.9,580.8 435.8,588.4" fill="#daa538" stroke="#ae842d"/><polygon points="429.1,552.2 440.3,544.8 435.9,550.3 452.3,552.6 468.2,555.5 474.9,557.7 474.8,558.3 467.8,558.8 451.7,557.6 435.2,555.6 438.1,562.2" fill="#b2bd4b" stroke="#8f973c"/><polygon points="433.4,527.5 443.0,522.2 439.1,526.4 452.4,529.3 465.3,532.7 470.6,534.9 470.5,535.4 464.7,535.4 451.6,533.4 438.2,530.8 440.1,536.3" fill="#87bb69" stroke="#6c9554"/><polygon points="437.4,503.2 445.5,499.5 442.0,502.7 452.5,506.0 462.6,509.7 466.7,511.9 466.6,512.2 461.9,511.8 451.5,509.2 440.9,506.1 442.1,510.7" fill="#5cae8e" stroke="#4a8b72"/><polygon points="441.1,479.0 447.7,477.0 444.7,479.1 452.5,482.7 460.0,486.5 463.0,488.6 462.8,488.8 459.3,488.0 451.5,485.0 443.6,481.6 444.1,485.3" fill="#4c94bc" stroke="#3d7796"/><polygon points="444.8,455.1 449.9,454.5 447.4,455.6 452.6,459.3 457.4,463.1 459.3,465.1 459.2,465.2 456.7,464.2 451.4,460.9 446.2,457.3 446.0,460.0" fill="#406ad3" stroke="#3455a9"/><polygon points="448.4,431.2 451.9,432.1 450.0,432.2 452.6,436.0 454.9,439.7 455.7,441.4 455.6,441.5 454.2,440.2 451.4,436.7 448.8,433.1 448.0,434.8" fill="#3e48c0" stroke="#2f3792"/><polygon points="452.0,407.4 454.0,409.7 452.6,408.9 452.6,412.6 452.4,416.2 452.1,417.8 451.9,417.8 451.6,416.2 451.4,412.6 451.4,408.9 450.0,409.7" fill="#3e37b5" stroke="#2d2883"/><polygon points="455.6,383.7 456.0,387.3 455.2,385.6 452.6,389.2 449.8,392.7 448.4,394.0 448.3,393.9 449.1,392.2 451.4,388.5 454.0,384.7 452.1,384.6" fill="#3e48c0" stroke="#2f3792"/><polygon points="459.2,360.1 458.0,365.0 457.8,362.3 452.6,365.9 447.3,369.2 444.8,370.2 444.7,370.1 446.6,368.1 451.4,364.3 456.6,360.6 454.1,359.5" fill="#406ad3" stroke="#3455a9"/><polygon points="462.9,336.5 459.9,342.8 460.4,339.1 452.5,342.5 444.7,345.5 441.2,346.3 441.0,346.1 444.0,344.0 451.5,340.2 459.3,336.6 456.3,334.5" fill="#4c94bc" stroke="#3d7796"/><polygon points="466.6,313.2 461.9,320.7 463.1,316.1 452.5,319.2 442.1,321.8 437.4,322.2 437.3,321.9 441.4,319.7 451.5,316.0 462.0,312.7 458.5,309.5" fill="#5cae8e" stroke="#4a8b72"/><polygon points="470.6,290.0 463.9,298.8 465.8,293.3 452.4,295.9 439.3,297.9 433.5,297.9 433.4,297.4 438.7,295.2 451.6,291.8 464.9,288.9 461.0,284.7" fill="#87bb69" stroke="#6c9554"/><polygon points="474.9,267.2 465.9,277.2 468.8,270.6 452.3,272.6 436.2,273.8 429.2,273.3 429.1,272.7 435.8,270.5 451.7,267.6 468.1,265.3 463.7,259.8" fill="#b2bd4b" stroke="#8f973c"/><polygon points="479.7,244.6 468.2,255.9 472.1,248.3 452.2,249.4 432.8,249.6 424.4,248.4 424.3,247.8 432.5,245.6 451.8,243.3 471.7,241.9 466.8,234.9" fill="#daa538" stroke="#ae842d"/><polygon points="485.1,222.2 470.7,234.9 475.9,226.1 452.0,226.2 428.9,225.3 418.9,223.4 418.9,222.6 428.8,220.5 452.0,219.0 475.8,218.5 470.4,209.8" fill="#e25c2b" stroke="#b54923"/><polygon points="441.9,602.4 457.0,589.5 451.5,598.5 476.1,598.8 500.1,600.3 510.3,602.4 510.3,603.2 500.0,605.2 476.1,606.4 451.4,606.4 456.9,615.5" fill="#e14628" stroke="#b43820"/><polygon points="447.4,578.0 460.4,567.5 455.6,574.9 476.2,575.7 496.2,577.4 504.8,579.3 504.8,580.0 496.1,581.5 476.0,582.0 455.4,581.6 459.7,589.3" fill="#e09d35" stroke="#b37e2a"/><polygon points="452.4,553.7 463.4,545.3 459.2,551.4 476.3,552.5 492.8,554.4 499.8,556.2 499.8,556.8 492.6,557.8 475.9,557.7 458.9,556.8 462.3,563.3" fill="#b9bd46" stroke="#949738"/><polygon points="456.9,529.5 466.0,523.0 462.5,527.8 476.3,529.2 489.7,531.3 495.3,533.0 495.3,533.4 489.4,534.0 475.9,533.5 462.1,532.3 464.6,537.6" fill="#8bbb66" stroke="#6f9651"/><polygon points="461.0,505.4 468.5,500.7 465.5,504.3 476.3,505.9 486.8,508.0 491.2,509.6 491.1,509.9 486.5,510.2 475.9,509.3 465.0,507.8 466.8,512.1" fill="#5bad90" stroke="#498b73"/><polygon points="465.0,481.5 470.8,478.3 468.4,480.9 476.4,482.6 484.1,484.7 487.3,486.1 487.2,486.3 483.7,486.3 475.8,485.1 467.8,483.4 469.0,486.8" fill="#4a8fc2" stroke="#3b729b"/><polygon points="468.7,457.6 472.9,455.9 471.1,457.5 476.4,459.3 481.4,461.3 483.5,462.5 483.4,462.7 481.1,462.4 475.8,460.9 470.5,459.2 471.0,461.5" fill="#405dcf" stroke="#334aa6"/><polygon points="472.4,433.8 475.0,433.5 473.8,434.1 476.4,435.9 478.9,437.9 479.8,438.9 479.7,438.9 478.5,438.4 475.8,436.8 473.2,434.9 473.1,436.3" fill="#3f2dae" stroke="#2c2079"/><polygon points="476.1,410.0 477.1,411.2 476.4,410.8 476.4,412.6 476.3,414.4 476.1,415.2 476.1,415.2 475.9,414.4 475.8,412.6 475.8,410.8 475.1,411.2" fill="#4a198e" stroke="#2f105b"/><polygon points="479.8,386.3 479.1,388.8 479.0,387.4 476.4,389.3 473.7,390.9 472.5,391.4 472.4,391.4 473.3,390.4 475.8,388.4 478.4,386.6 477.2,386.0" fill="#3f2dae" stroke="#2c2079"/><polygon points="483.5,362.6 481.2,366.5 481.7,364.2 476.4,365.9 471.1,367.4 468.8,367.7 468.7,367.5 470.8,366.3 475.8,364.3 481.1,362.5 479.3,360.9" fill="#405dcf" stroke="#334aa6"/><polygon points="487.2,339.0 483.2,344.3 484.4,340.9 476.4,342.6 468.5,343.8 465.0,343.8 464.9,343.6 468.1,342.2 475.8,340.1 483.8,338.4 481.4,335.8" fill="#4a8fc2" stroke="#3b729b"/><polygon points="491.2,315.4 485.4,322.1 487.2,317.8 476.3,319.3 465.7,320.2 461.1,319.9 461.0,319.6 465.4,318.0 475.9,315.9 486.7,314.3 483.7,310.7" fill="#5bad90" stroke="#498b73"/><polygon points="495.3,292.0 487.6,300.1 490.1,294.8 476.3,296.0 462.8,296.5 456.9,295.9 456.9,295.5 462.5,293.8 475.9,291.7 489.7,290.3 486.2,285.5" fill="#8bbb66" stroke="#6f9651"/><polygon points="499.8,268.7 489.9,278.3 493.3,271.8 476.3,272.7 459.6,272.8 452.4,271.8 452.4,271.2 459.4,269.4 475.9,267.5 493.0,266.4 488.8,260.3" fill="#b9bd46" stroke="#949738"/><polygon points="504.8,245.5 492.5,256.8 496.8,249.1 476.2,249.5 456.1,249.0 447.4,247.5 447.4,246.8 456.0,244.9 476.0,243.2 496.6,242.4 491.8,235.0" fill="#e09d35" stroke="#b37e2a"/><polygon points="510.3,222.4 495.3,235.5 500.8,226.4 476.1,226.4 452.2,225.2 441.9,223.2 441.9,222.4 452.1,220.3 476.1,218.8 500.7,218.5 495.2,209.5" fill="#e14628" stroke="#b43820"/><polygon points="465.6,602.6 480.8,589.5 475.3,598.6 500.2,598.8 524.4,600.1 534.8,602.2 534.8,603.0 524.4,605.1 500.2,606.4 475.3,606.6 480.8,615.7" fill="#e14026" stroke="#b4331f"/><polygon points="471.2,578.9 484.0,567.8 479.3,575.5 500.2,575.7 520.5,576.8 529.2,578.5 529.2,579.2 520.5,580.9 500.2,582.0 479.3,582.2 484.0,589.9" fill="#e09934" stroke="#b37a2a"/><polygon points="476.2,555.1 486.8,546.0 482.9,552.3 500.2,552.5 517.0,553.4 524.2,554.8 524.2,555.4 517.0,556.8 500.2,557.7 482.9,557.9 486.8,564.2" fill="#bcbd45" stroke="#969737"/><polygon points="480.8,531.4 489.3,524.0 486.2,529.1 500.2,529.2 513.8,530.0 519.6,531.1 519.6,531.6 513.8,532.7 500.2,533.5 486.2,533.6 489.3,538.7" fill="#8cbb65" stroke="#709650"/><polygon points="485.0,507.6 491.7,501.8 489.3,505.8 500.2,505.9 510.8,506.5 515.4,507.4 515.4,507.8 510.8,508.7 500.2,509.3 489.3,509.4 491.7,513.4" fill="#5bad90" stroke="#498b73"/><polygon points="489.0,483.9 493.9,479.6 492.1,482.5 500.2,482.6 508.1,483.0 511.4,483.7 511.4,484.0 508.1,484.7 500.2,485.1 492.1,485.2 493.9,488.1" fill="#498dc4" stroke="#3a719d"/><polygon points="492.8,460.1 496.0,457.3 494.9,459.2 500.2,459.3 505.4,459.6 507.6,460.0 507.6,460.2 505.4,460.6 500.2,460.9 494.9,461.0 496.0,462.9" fill="#3f59cd" stroke="#3247a3"/><polygon points="496.5,436.4 498.1,434.9 497.5,435.9 500.2,435.9 502.8,436.1 503.9,436.3 503.9,436.4 502.8,436.6 500.2,436.8 497.5,436.8 498.1,437.8" fill="#4223a1" stroke="#2c186c"/><polygon points="503.9,388.9 502.3,390.3 502.9,389.3 500.2,389.3 497.6,389.1 496.5,388.9 496.5,388.8 497.6,388.6 500.2,388.4 502.9,388.4 502.3,387.4" fill="#4223a1" stroke="#2c186c"/><polygon points="507.6,365.1 504.4,367.9 505.5,366.0 500.2,365.9 495.0,365.6 492.8,365.2 492.8,365.0 495.0,364.6 500.2,364.3 505.5,364.2 504.4,362.3" fill="#3f59cd" stroke="#3247a3"/><polygon points="511.4,341.4 506.5,345.6 508.3,342.7 500.2,342.6 492.3,342.2 489.0,341.5 489.0,341.2 492.3,340.5 500.2,340.1 508.3,340.0 506.5,337.1" fill="#498dc4" stroke="#3a719d"/><polygon points="515.4,317.6 508.7,323.4 511.1,319.4 500.2,319.3 489.6,318.7 485.0,317.8 485.0,317.4 489.6,316.5 500.2,315.9 511.1,315.8 508.7,311.8" fill="#5bad90" stroke="#498b73"/><polygon points="519.6,293.9 511.1,301.2 514.2,296.1 500.2,296.0 486.6,295.2 480.8,294.1 480.8,293.6 486.6,292.5 500.2,291.7 514.2,291.6 511.1,286.5" fill="#8cbb65" stroke="#709650"/><polygon points="524.2,270.1 513.6,279.2 517.5,272.9 500.2,272.7 483.4,271.8 476.2,270.4 476.2,269.8 483.4,268.4 500.2,267.5 517.5,267.3 513.6,261.0" fill="#bcbd45" stroke="#969737"/><polygon points="529.2,246.4 516.4,257.4 521.1,249.7 500.2,249.5 479.9,248.4 471.2,246.7 471.2,246.0 479.9,244.3 500.2,243.2 521.1,243.0 516.4,235.3" fill="#e09934" stroke="#b37a2a"/><polygon points="534.8,222.6 519.6,235.7 525.1,226.6 500.2,226.4 476.0,225.1 465.6,223.0 465.6,222.2 476.0,220.1 500.2,218.8 525.1,218.6 519.6,209.5" fill="#e14026" stroke="#b4331f"/><polygon points="490.1,602.8 505.1,589.7 499.6,598.8 524.3,598.8 548.2,600.0 558.5,602.0 558.5,602.8 548.3,604.9 524.3,606.4 499.7,606.7 505.2,615.7" fill="#e14628" stroke="#b43820"/><polygon points="495.6,579.7 507.9,568.4 503.6,576.1 524.2,575.7 544.3,576.2 553.0,577.7 553.0,578.4 544.4,580.3 524.4,582.0 503.8,582.8 508.6,590.2" fill="#e09d35" stroke="#b37e2a"/><polygon points="500.6,556.5 510.5,546.9 507.1,553.4 524.1,552.5 540.8,552.4 548.0,553.4 548.0,554.0 541.0,555.8 524.5,557.7 507.4,558.8 511.6,564.9" fill="#b9bd46" stroke="#949738"/><polygon points="505.1,533.2 512.8,525.1 510.3,530.4 524.1,529.2 537.6,528.7 543.5,529.3 543.5,529.7 537.9,531.4 524.5,533.5 510.7,534.9 514.2,539.7" fill="#8bbb66" stroke="#6f9651"/><polygon points="509.2,509.8 515.0,503.1 513.2,507.4 524.1,505.9 534.7,505.0 539.3,505.3 539.4,505.6 535.0,507.2 524.5,509.3 513.7,510.9 516.7,514.5" fill="#5bad90" stroke="#498b73"/><polygon points="513.2,486.2 517.2,480.9 516.0,484.3 524.0,482.6 531.9,481.4 535.4,481.4 535.5,481.6 532.3,483.0 524.6,485.1 516.6,486.8 519.0,489.4" fill="#4a8fc2" stroke="#3b729b"/><polygon points="516.9,462.6 519.2,458.7 518.7,461.0 524.0,459.3 529.3,457.8 531.6,457.5 531.7,457.7 529.6,458.9 524.6,460.9 519.3,462.7 521.1,464.3" fill="#405dcf" stroke="#334aa6"/><polygon points="520.6,438.9 521.3,436.4 521.4,437.8 524.0,435.9 526.7,434.3 527.9,433.8 528.0,433.8 527.1,434.8 524.6,436.8 522.0,438.6 523.2,439.2" fill="#3f2dae" stroke="#2c2079"/><polygon points="524.3,415.2 523.3,414.0 524.0,414.4 524.0,412.6 524.1,410.8 524.3,410.0 524.3,410.0 524.5,410.8 524.6,412.6 524.6,414.4 525.3,414.0" fill="#4a198e" stroke="#2f105b"/><polygon points="528.0,391.4 525.4,391.7 526.6,391.1 524.0,389.3 521.5,387.3 520.6,386.3 520.7,386.3 521.9,386.8 524.6,388.4 527.2,390.3 527.3,388.9" fill="#3f2dae" stroke="#2c2079"/><polygon points="531.7,367.6 527.5,369.3 529.3,367.7 524.0,365.9 519.0,363.9 516.9,362.7 517.0,362.5 519.3,362.8 524.6,364.3 529.9,366.0 529.4,363.7" fill="#405dcf" stroke="#334aa6"/><polygon points="535.4,343.7 529.6,346.9 532.0,344.3 524.0,342.6 516.3,340.5 513.1,339.1 513.2,338.9 516.7,338.9 524.6,340.1 532.6,341.8 531.4,338.4" fill="#4a8fc2" stroke="#3b729b"/><polygon points="539.4,319.8 531.9,324.5 534.9,320.9 524.1,319.3 513.6,317.2 509.2,315.6 509.3,315.3 513.9,315.0 524.5,315.9 535.4,317.4 533.6,313.1" fill="#5bad90" stroke="#498b73"/><polygon points="543.5,295.7 534.4,302.2 537.9,297.4 524.1,296.0 510.7,293.9 505.1,292.2 505.1,291.8 511.0,291.2 524.5,291.7 538.3,292.9 535.8,287.6" fill="#8bbb66" stroke="#6f9651"/><polygon points="548.0,271.5 537.0,279.9 541.2,273.8 524.1,272.7 507.6,270.8 500.6,269.0 500.6,268.4 507.8,267.4 524.5,267.5 541.5,268.4 538.1,261.9" fill="#b9bd46" stroke="#949738"/><polygon points="553.0,247.2 540.0,257.7 544.8,250.3 524.2,249.5 504.2,247.8 495.6,245.9 495.6,245.2 504.3,243.7 524.4,243.2 545.0,243.6 540.7,235.9" fill="#e09d35" stroke="#b37e2a"/><polygon points="558.5,222.8 543.4,235.7 548.9,226.7 524.3,226.4 500.3,224.9 490.1,222.8 490.1,222.0 500.4,220.0 524.3,218.8 549.0,218.8 543.5,209.7" fill="#e14628" stroke="#b43820"/><polygon points="515.3,603.0 529.7,590.3 524.5,599.1 548.4,599.0 571.5,599.9 581.5,601.8 581.5,602.6 571.6,604.7 548.4,606.2 524.6,606.7 530.0,615.4" fill="#e25c2b" stroke="#b54923"/><polygon points="520.7,580.6 532.2,569.3 528.3,576.9 548.2,575.8 567.6,575.6 576.0,576.8 576.1,577.4 567.9,579.6 548.6,581.9 528.7,583.3 533.6,590.3" fill="#daa538" stroke="#ae842d"/><polygon points="525.5,558.0 534.5,548.0 531.6,554.6 548.1,552.6 564.2,551.4 571.2,551.9 571.3,552.5 564.6,554.7 548.7,557.6 532.3,559.9 536.7,565.4" fill="#b2bd4b" stroke="#8f973c"/><polygon points="529.8,535.2 536.5,526.4 534.6,531.9 548.0,529.3 561.1,527.3 566.9,527.3 567.0,527.8 561.7,530.0 548.8,533.4 535.5,536.3 539.4,540.5" fill="#87bb69" stroke="#6c9554"/><polygon points="533.8,512.0 538.5,504.5 537.3,509.1 547.9,506.0 558.3,503.4 563.0,503.0 563.1,503.3 559.0,505.5 548.9,509.2 538.4,512.5 541.9,515.7" fill="#5cae8e" stroke="#4a8b72"/><polygon points="537.5,488.7 540.5,482.4 540.0,486.1 547.9,482.7 555.7,479.7 559.2,478.9 559.4,479.1 556.4,481.2 548.9,485.0 541.1,488.6 544.1,490.7" fill="#4c94bc" stroke="#3d7796"/><polygon points="541.2,465.1 542.4,460.2 542.6,462.9 547.8,459.3 553.1,456.0 555.6,455.0 555.7,455.1 553.8,457.1 549.0,460.9 543.8,464.6 546.3,465.7" fill="#406ad3" stroke="#3455a9"/><polygon points="544.8,441.5 544.4,437.9 545.2,439.6 547.8,436.0 550.6,432.5 552.0,431.2 552.1,431.3 551.3,433.0 549.0,436.7 546.4,440.5 548.3,440.6" fill="#3e48c0" stroke="#2f3792"/><polygon points="548.4,417.8 546.4,415.5 547.8,416.3 547.8,412.6 548.0,409.0 548.3,407.4 548.5,407.4 548.8,409.0 549.0,412.6 549.0,416.3 550.4,415.5" fill="#3e37b5" stroke="#2d2883"/><polygon points="552.0,394.0 548.5,393.1 550.4,393.0 547.8,389.2 545.5,385.5 544.7,383.8 544.8,383.7 546.2,385.0 549.0,388.5 551.6,392.1 552.4,390.4" fill="#3e48c0" stroke="#2f3792"/><polygon points="555.6,370.1 550.5,370.7 553.0,369.6 547.8,365.9 543.0,362.1 541.1,360.1 541.2,360.0 543.7,361.0 549.0,364.3 554.2,367.9 554.4,365.2" fill="#406ad3" stroke="#3455a9"/><polygon points="559.3,346.2 552.7,348.2 555.7,346.1 547.9,342.5 540.4,338.7 537.4,336.6 537.6,336.4 541.1,337.2 548.9,340.2 556.8,343.6 556.3,339.9" fill="#4c94bc" stroke="#3d7796"/><polygon points="563.0,322.0 554.9,325.7 558.4,322.5 547.9,319.2 537.8,315.5 533.7,313.3 533.8,313.0 538.5,313.4 548.9,316.0 559.5,319.1 558.3,314.5" fill="#5cae8e" stroke="#4a8b72"/><polygon points="567.0,297.7 557.4,303.0 561.3,298.8 548.0,295.9 535.1,292.5 529.8,290.3 529.9,289.8 535.7,289.8 548.8,291.8 562.2,294.4 560.3,288.9" fill="#87bb69" stroke="#6c9554"/><polygon points="571.3,273.0 560.1,280.4 564.5,274.9 548.1,272.6 532.2,269.7 525.5,267.5 525.6,266.9 532.6,266.4 548.7,267.6 565.2,269.6 562.3,263.0" fill="#b2bd4b" stroke="#8f973c"/><polygon points="576.1,248.1 563.2,257.8 568.1,250.8 548.2,249.4 528.9,247.1 520.7,244.9 520.8,244.3 529.2,243.1 548.6,243.3 568.5,244.4 564.6,236.8" fill="#daa538" stroke="#ae842d"/><polygon points="581.5,223.0 566.8,235.4 572.2,226.7 548.4,226.2 525.2,224.7 515.3,222.6 515.3,221.8 525.3,219.9 548.4,219.0 572.3,219.1 567.1,210.3" fill="#e25c2b" stroke="#b54923"/><polygon points="541.4,603.3 554.8,591.2 550.0,599.5 572.4,599.2 594.2,599.9 603.6,601.5 603.6,602.3 594.3,604.4 572.6,606.0 550.2,606.7 555.3,614.8" fill="#e17a30" stroke="#b46126"/><polygon points="546.7,581.8 556.9,570.7 553.6,578.0 572.2,576.0 590.4,574.9 598.3,575.6 598.4,576.2 590.8,578.7 572.8,581.7 554.2,583.9 559.1,590.3" fill="#ccb03d" stroke="#a38d31"/><polygon points="551.1,559.9 558.7,549.6 556.5,556.1 572.0,552.7 587.2,550.2 593.9,550.1 594.0,550.6 587.8,553.3 573.0,557.5 557.6,561.0 562.3,565.9" fill="#a7bd53" stroke="#869742"/><polygon points="554.9,537.5 560.3,528.1 559.1,533.7 571.8,529.4 584.3,525.8 590.0,525.0 590.1,525.4 585.2,528.3 573.2,533.3 560.6,537.8 565.0,541.5" fill="#82ba6c" stroke="#689556"/><polygon points="558.5,514.6 562.0,506.2 561.6,511.0 571.7,506.1 581.8,501.7 586.4,500.4 586.6,500.7 582.8,503.7 573.3,509.1 563.2,514.3 567.3,516.9" fill="#60b08a" stroke="#4d8c6f"/><polygon points="562.0,491.4 563.7,484.1 564.0,488.0 571.7,482.7 579.3,477.8 583.0,476.2 583.1,476.5 580.4,479.3 573.3,485.0 565.8,490.5 569.5,492.1" fill="#519fb0" stroke="#417f8d"/><polygon points="565.4,467.8 565.6,461.7 566.5,464.8 571.6,459.3 576.9,454.2 579.5,452.3 579.7,452.4 578.0,455.2 573.4,460.9 568.3,466.5 571.5,467.1" fill="#4684ca" stroke="#386aa2"/><polygon points="568.9,444.2 567.5,439.4 569.0,441.6 571.6,436.0 574.4,430.6 576.0,428.5 576.2,428.6 575.6,431.1 573.4,436.7 570.8,442.4 573.5,442.1" fill="#4067d3" stroke="#3352a9"/><polygon points="572.5,420.4 569.5,417.0 571.6,418.2 571.6,412.6 571.9,407.1 572.4,404.8 572.6,404.8 573.1,407.1 573.4,412.6 573.4,418.2 575.5,417.0" fill="#405dcf" stroke="#334ba6"/><polygon points="576.1,396.7 571.5,394.6 574.2,394.9 571.6,389.2 569.4,383.6 568.8,381.1 569.0,381.0 570.6,383.1 573.4,388.5 576.0,394.1 577.5,391.9" fill="#4067d3" stroke="#3352a9"/><polygon points="579.6,372.8 573.5,372.1 576.7,371.5 571.6,365.9 567.0,360.2 565.3,357.4 565.5,357.3 568.1,359.2 573.4,364.3 578.5,369.8 579.4,366.7" fill="#4684ca" stroke="#386aa2"/><polygon points="583.0,348.9 575.5,349.6 579.2,348.0 571.7,342.5 564.6,336.8 561.9,334.0 562.0,333.7 565.7,335.3 573.3,340.2 581.0,345.5 581.3,341.6" fill="#519fb0" stroke="#417f8d"/><polygon points="586.5,324.6 577.7,326.9 581.8,324.3 571.7,319.1 562.2,313.7 558.4,310.7 558.6,310.4 563.2,311.7 573.3,316.1 583.4,321.0 583.0,316.2" fill="#60b08a" stroke="#4d8c6f"/><polygon points="590.1,300.0 580.0,304.0 584.4,300.3 571.8,295.8 559.8,290.8 554.9,287.9 555.0,287.5 560.7,288.3 573.2,291.9 585.9,296.2 584.7,290.6" fill="#82ba6c" stroke="#689556"/><polygon points="593.9,274.9 582.7,280.9 587.4,276.0 572.0,272.5 557.2,268.3 551.0,265.6 551.1,265.1 557.8,265.2 573.0,267.7 588.5,271.1 586.3,264.6" fill="#a7bd53" stroke="#869742"/><polygon points="598.3,249.3 585.9,257.8 590.8,251.4 572.2,249.2 554.2,246.2 546.6,243.7 546.7,243.1 554.6,242.4 572.8,243.5 591.4,245.5 588.1,238.2" fill="#ccb03d" stroke="#a38d31"/><polygon points="603.6,223.3 589.7,234.8 594.8,226.7 572.4,226.0 550.7,224.4 541.4,222.3 541.4,221.5 550.8,219.9 572.6,219.2 595.0,219.5 590.2,211.2" fill="#e17a30" stroke="#b46126"/><polygon points="568.7,603.6 580.6,592.5 576.4,600.1 596.5,599.5 616.1,599.9 624.5,601.3 624.5,602.0 616.2,603.9 596.7,605.7 576.6,606.5 581.3,613.7" fill="#dba437" stroke="#b0832c"/><polygon points="573.6,583.4 582.0,572.7 579.5,579.5 596.1,576.3 612.4,574.0 619.6,574.0 619.7,574.5 613.0,577.3 597.1,581.4 580.6,584.8 585.5,590.2" fill="#b7bd48" stroke="#92973a"/><polygon points="577.3,562.4 583.0,551.8 581.8,558.1 595.8,553.0 609.6,548.6 615.9,547.6 616.0,548.1 610.7,551.4 597.4,557.2 583.5,562.6 588.5,566.5" fill="#9abc5b" stroke="#7b9749"/><polygon points="580.4,540.4 584.1,530.3 583.9,536.0 595.6,529.6 607.3,523.9 612.7,522.1 612.9,522.5 608.6,526.2 597.6,533.1 586.0,539.7 591.0,542.6" fill="#81ba6c" stroke="#679557"/><polygon points="583.4,517.7 585.4,508.2 585.9,513.3 595.5,506.1 605.1,499.6 609.7,497.4 609.9,497.7 606.6,501.5 597.7,509.1 588.2,516.4 593.0,518.3" fill="#6ab480" stroke="#559066"/><polygon points="586.4,494.4 586.9,485.9 588.0,490.2 595.4,482.7 603.0,475.7 606.7,473.2 606.9,473.4 604.5,477.2 597.8,485.0 590.5,492.6 594.9,493.6" fill="#59aa97" stroke="#478879"/><polygon points="589.6,470.7 588.6,463.4 590.3,466.9 595.4,459.3 600.8,452.2 603.5,449.4 603.8,449.6 602.3,453.2 597.8,460.9 592.8,468.5 596.7,468.7" fill="#509cb2" stroke="#407d8f"/><polygon points="593.0,446.9 590.6,440.9 592.8,443.5 595.4,436.0 598.4,428.7 600.1,425.8 600.3,425.9 599.9,429.2 597.8,436.7 595.2,444.3 598.6,443.6" fill="#488cc5" stroke="#3a709e"/><polygon points="596.6,423.1 592.6,418.5 595.4,420.1 595.4,412.6 595.8,405.3 596.5,402.1 596.7,402.1 597.4,405.3 597.8,412.6 597.8,420.1 600.6,418.5" fill="#4684ca" stroke="#3869a2"/><polygon points="600.2,399.4 594.6,396.1 598.0,396.8 595.4,389.2 593.3,381.7 592.9,378.4 593.1,378.3 594.8,381.2 597.8,388.5 600.4,396.0 602.6,393.4" fill="#488cc5" stroke="#3a709e"/><polygon points="603.6,375.7 596.5,373.7 600.4,373.5 595.4,365.9 590.9,358.2 589.4,354.6 589.7,354.4 592.4,357.2 597.8,364.3 602.9,371.9 604.6,368.4" fill="#509cb2" stroke="#407d8f"/><polygon points="606.8,351.9 598.3,351.1 602.7,350.1 595.4,342.5 588.7,334.7 586.3,330.9 586.5,330.7 590.2,333.2 597.8,340.2 605.2,347.7 606.3,343.4" fill="#59aa97" stroke="#478879"/><polygon points="609.8,327.7 600.2,328.3 605.0,326.4 595.5,319.1 586.6,311.5 583.3,307.7 583.5,307.4 588.1,309.6 597.7,316.1 607.3,323.3 607.8,318.2" fill="#6ab480" stroke="#559066"/><polygon points="612.8,302.9 602.2,305.1 607.2,302.2 595.6,295.6 584.6,288.7 580.3,285.0 580.5,284.6 585.9,286.4 597.6,292.1 609.3,298.5 609.1,292.8" fill="#81ba6c" stroke="#679557"/><polygon points="615.9,277.4 604.7,281.5 609.7,277.6 595.8,272.2 582.5,266.4 577.2,263.1 577.3,262.6 583.6,263.6 597.4,268.0 611.4,273.1 610.2,266.8" fill="#9abc5b" stroke="#7b9749"/><polygon points="619.6,250.9 607.7,257.7 612.6,252.3 596.1,248.9 580.2,244.8 573.5,242.0 573.6,241.5 580.8,241.5 597.1,243.8 613.7,247.0 611.2,240.2" fill="#b7bd48" stroke="#92973a"/><polygon points="624.5,223.6 611.9,233.7 616.6,226.5 596.5,225.7 577.0,223.9 568.7,222.0 568.7,221.3 577.1,219.9 596.7,219.5 616.8,220.1 612.6,212.5" fill="#dba437" stroke="#b0832c"/><polygon points="620.2,697.7 620.4,697.5 620.3,697.6 620.7,697.5 621.0,697.5 621.2,697.5 621.2,697.5 621.0,697.6 620.7,697.7 620.4,697.7 620.5,697.8" fill="#5e1674" stroke="#350c42"/><polygon points="620.5,671.3 621.5,672.4 620.8,672.0 621.0,673.8 621.0,675.6 620.9,676.4 620.9,676.4 620.7,675.6 620.4,673.9 620.3,672.1 619.6,672.5" fill="#4b198e" stroke="#2f105a"/><polygon points="620.9,647.2 621.9,648.5 621.1,648.0 621.0,650.1 620.8,652.2 620.6,653.0 620.5,653.0 620.4,652.1 620.4,650.1 620.5,648.0 619.7,648.4" fill="#451a94" stroke="#2d1160"/><polygon points="598.9,605.1 607.6,595.7 604.7,601.9 620.4,600.2 635.8,599.3 642.4,599.9 642.5,600.4 636.1,602.4 621.0,605.0 605.3,606.9 609.5,612.3" fill="#a7bd53" stroke="#859742"/><polygon points="601.7,586.3 607.2,575.8 606.1,582.0 619.9,576.8 633.5,572.2 639.6,571.1 639.8,571.6 634.6,575.0 621.5,580.9 607.9,586.4 612.9,590.3" fill="#98bc5d" stroke="#79974a"/><polygon points="604.0,565.9 607.3,554.8 607.4,560.9 619.5,553.3 631.6,546.4 637.3,544.1 637.5,544.5 633.2,548.8 621.9,556.9 609.9,564.8 615.5,567.5" fill="#92bc61" stroke="#75964d"/><polygon points="606.1,544.2 607.7,533.0 608.7,538.9 619.3,529.7 630.0,521.3 635.1,518.3 635.4,518.7 631.8,523.4 622.1,533.0 611.7,542.3 617.4,544.1" fill="#8dbc64" stroke="#719650"/><polygon points="608.2,521.4 608.4,510.6 610.1,516.1 619.2,506.2 628.5,497.0 633.0,493.6 633.4,493.9 630.5,498.8 622.2,509.0 613.3,519.0 618.9,520.1" fill="#83ba6b" stroke="#699556"/><polygon points="610.5,497.8 609.7,487.8 611.8,492.8 619.2,482.7 626.8,473.3 630.7,469.7 631.0,470.0 628.8,474.8 622.2,485.0 615.0,495.1 620.3,495.5" fill="#72b778" stroke="#5b9260"/><polygon points="613.4,473.7 611.4,465.0 613.9,469.1 619.2,459.3 624.8,450.0 627.8,446.4 628.1,446.5 626.8,451.1 622.2,460.9 617.0,470.8 621.8,470.5" fill="#5eaf8c" stroke="#4b8c70"/><polygon points="616.9,449.5 613.6,442.3 616.4,445.4 619.3,435.9 622.4,426.8 624.4,423.1 624.7,423.2 624.3,427.4 622.1,436.8 619.5,446.3 623.6,445.2" fill="#55a4a5" stroke="#448384"/><polygon points="620.7,425.6 615.8,419.9 619.2,421.9 619.3,412.6 619.8,403.5 620.5,399.6 620.9,399.6 621.6,403.5 622.1,412.6 622.2,421.9 625.6,419.9" fill="#519faf" stroke="#417f8c"/><polygon points="624.5,402.0 617.8,397.7 621.9,398.8 619.3,389.3 617.1,379.9 616.7,375.7 617.0,375.6 619.0,379.3 622.1,388.4 625.0,397.9 627.8,394.8" fill="#55a4a5" stroke="#448384"/><polygon points="628.0,378.7 619.6,375.5 624.4,375.8 619.2,365.9 614.6,356.1 613.3,351.5 613.6,351.4 616.6,355.0 622.2,364.3 627.5,374.1 630.0,370.0" fill="#5eaf8c" stroke="#4b8c70"/><polygon points="630.9,355.3 621.1,353.0 626.4,352.6 619.2,342.5 612.6,332.3 610.4,327.5 610.7,327.2 614.6,330.8 622.2,340.2 629.6,350.3 631.7,345.3" fill="#72b778" stroke="#5b9260"/><polygon points="633.2,331.4 622.5,330.1 628.1,329.0 619.2,319.0 610.9,308.8 608.0,303.9 608.4,303.6 612.9,307.0 622.2,316.2 631.3,326.1 633.0,320.6" fill="#83ba6b" stroke="#699556"/><polygon points="635.3,306.7 624.0,306.6 629.7,304.8 619.3,295.5 609.6,285.9 606.0,281.2 606.3,280.8 611.4,283.8 622.1,292.2 632.7,301.4 633.7,295.5" fill="#8dbc64" stroke="#719650"/><polygon points="637.4,280.9 625.9,282.5 631.5,279.8 619.5,271.9 608.2,263.8 603.9,259.5 604.1,259.1 609.8,261.4 621.9,268.3 634.0,275.9 634.1,269.8" fill="#92bc61" stroke="#75964d"/><polygon points="639.7,253.8 628.5,257.8 633.5,253.9 619.9,248.4 606.8,242.5 601.6,239.1 601.8,238.6 607.9,239.7 621.5,244.3 635.3,249.5 634.2,243.3" fill="#98bc5d" stroke="#79974a"/><polygon points="642.5,225.1 631.9,232.3 636.1,226.9 620.4,225.0 605.3,222.4 598.9,220.4 599.0,219.9 605.6,219.3 621.0,220.2 636.7,221.9 633.8,215.7" fill="#a7bd53" stroke="#859742"/><polygon points="620.5,172.2 621.7,173.4 620.9,173.0 621.0,175.1 621.0,177.1 620.9,178.0 620.8,178.0 620.6,177.2 620.4,175.1 620.3,173.0 619.5,173.5" fill="#451a94" stroke="#2d1160"/><polygon points="620.9,148.8 621.8,150.0 621.1,149.6 621.0,151.4 620.7,153.1 620.5,153.9 620.5,153.9 620.4,153.1 620.4,151.3 620.6,149.5 619.9,149.9" fill="#4b198e" stroke="#2f105a"/><polygon points="642.8,674.7 643.4,673.5 643.3,674.2 644.7,673.6 646.2,673.1 646.8,673.0 646.8,673.1 646.3,673.4 644.9,674.1 643.4,674.7 644.0,675.1" fill="#501988" stroke="#320f55"/><polygon points="645.2,649.6 645.2,650.0 645.1,649.8 644.9,650.1 644.6,650.4 644.4,650.6 644.4,650.6 644.5,650.4 644.7,650.1 645.0,649.7 644.8,649.7" fill="#5f1675" stroke="#360d42"/><polygon points="629.4,609.9 633.4,600.9 632.9,606.1 644.0,600.9 655.0,596.4 660.1,595.1 660.3,595.5 656.1,598.6 645.6,604.3 634.6,609.7 639.0,612.5" fill="#6fb67b" stroke="#599262"/><polygon points="630.3,591.0 632.0,580.2 632.9,585.9 643.5,577.3 654.1,569.3 659.2,566.5 659.5,566.9 655.8,571.4 646.1,580.4 635.8,589.3 641.3,591.2" fill="#86bb69" stroke="#6c9554"/><polygon points="631.1,570.9 631.1,558.7 633.1,564.9 643.1,553.6 653.2,543.1 658.3,539.2 658.7,539.5 655.5,545.1 646.5,556.6 636.8,568.0 643.1,569.1" fill="#9cbc5a" stroke="#7d9748"/><polygon points="631.8,549.2 630.7,536.4 633.4,542.7 642.8,529.9 652.6,517.9 657.6,513.3 658.0,513.6 655.2,519.8 646.8,532.8 637.5,545.7 644.3,546.3" fill="#a9bd52" stroke="#879741"/><polygon points="632.7,526.2 630.9,513.4 633.9,519.6 642.8,506.3 652.0,493.7 656.7,488.8 657.2,489.1 654.6,495.4 646.8,508.9 638.2,522.4 645.1,522.6" fill="#aabd51" stroke="#889741"/><polygon points="634.1,502.0 631.9,489.9 635.0,495.7 642.8,482.7 651.0,470.4 655.3,465.6 655.8,465.9 653.6,471.9 646.8,485.0 639.2,498.1 645.7,498.1" fill="#9ebc59" stroke="#7f9747"/><polygon points="636.5,476.9 633.8,466.4 636.9,471.2 643.0,459.2 649.4,447.8 652.9,443.2 653.3,443.4 651.8,448.9 646.6,461.0 640.8,473.1 646.5,472.6" fill="#84ba6b" stroke="#699555"/><polygon points="640.3,451.8 636.4,443.3 639.7,447.0 643.1,435.9 646.9,425.2 649.1,420.8 649.5,420.9 649.1,425.8 646.5,436.8 643.3,448.0 648.1,446.7" fill="#65b285" stroke="#518e6b"/><polygon points="644.8,427.6 639.1,421.0 643.1,423.4 643.2,412.6 643.7,402.1 644.6,397.6 645.0,397.6 645.9,402.1 646.4,412.6 646.5,423.4 650.5,421.0" fill="#5aac93" stroke="#488976"/><polygon points="649.3,404.3 641.5,399.2 646.3,400.5 643.1,389.3 640.5,378.3 640.1,373.4 640.5,373.3 642.7,377.7 646.5,388.4 649.9,399.5 653.2,395.8" fill="#65b285" stroke="#518e6b"/><polygon points="653.1,381.9 643.1,377.6 648.8,378.1 643.0,366.0 637.8,353.9 636.3,348.4 636.7,348.2 640.2,352.8 646.6,364.2 652.7,376.2 655.8,371.4" fill="#84ba6b" stroke="#699555"/><polygon points="655.5,359.5 643.9,355.6 650.4,355.6 642.8,342.5 636.0,329.4 633.8,323.4 634.3,323.1 638.6,327.9 646.8,340.2 654.6,353.2 657.7,347.4" fill="#9ebc59" stroke="#7f9747"/><polygon points="656.9,336.2 644.5,332.6 651.4,332.4 642.8,318.9 635.0,305.4 632.4,299.1 632.9,298.8 637.6,303.7 646.8,316.3 655.7,329.6 658.7,323.4" fill="#aabd51" stroke="#889741"/><polygon points="657.8,311.7 645.3,308.8 652.1,308.2 642.8,295.3 634.4,282.3 631.6,276.1 632.0,275.8 637.0,280.4 646.8,292.4 656.2,305.2 658.9,298.9" fill="#a9bd52" stroke="#879741"/><polygon points="658.5,285.9 646.5,284.1 652.8,283.0 643.1,271.6 634.1,260.1 630.9,254.5 631.3,254.2 636.4,258.1 646.5,268.6 656.5,279.9 658.5,273.7" fill="#9cbc5a" stroke="#7d9748"/><polygon points="659.3,258.5 648.3,258.7 653.8,256.8 643.5,247.9 633.8,238.9 630.1,234.4 630.4,234.0 635.5,236.8 646.1,244.8 656.7,253.4 657.6,247.7" fill="#86bb69" stroke="#6c9554"/><polygon points="660.2,229.9 650.6,232.5 655.0,229.7 644.0,224.3 633.5,218.6 629.3,215.5 629.5,215.1 634.6,216.4 645.6,220.9 656.7,226.1 656.2,220.9" fill="#6fb67b" stroke="#599262"/><polygon points="644.4,174.6 644.8,174.7 644.6,174.7 644.9,175.1 645.1,175.4 645.2,175.6 645.2,175.6 645.0,175.4 644.7,175.1 644.5,174.8 644.4,175.0" fill="#5f1675" stroke="#360d42"/><polygon points="646.8,152.2 645.6,152.6 646.2,152.2 644.7,151.6 643.3,150.9 642.8,150.6 642.8,150.5 643.4,150.6 644.9,151.1 646.3,151.7 646.2,151.0" fill="#501988" stroke="#320f55"/><polygon points="667.6,651.1 667.8,650.2 667.9,650.7 668.8,650.0 669.7,649.3 670.1,649.0 670.2,649.1 669.9,649.5 669.0,650.2 668.1,651.0 668.6,651.2" fill="#571880" stroke="#350e4d"/><polygon points="670.6,625.2 670.3,626.3 670.2,625.7 669.0,626.5 667.8,627.3 667.3,627.6 667.2,627.5 667.7,627.1 668.8,626.2 670.0,625.3 669.4,625.1" fill="#521886" stroke="#320f53"/><polygon points="659.4,595.6 657.2,584.6 660.1,589.8 667.1,577.8 674.4,566.5 678.2,562.0 678.6,562.3 676.8,567.8 670.7,579.9 664.0,592.0 669.9,591.8" fill="#8abb66" stroke="#6f9652"/><polygon points="658.4,577.7 654.4,563.7 658.7,570.1 666.4,553.9 674.6,538.5 679.2,532.4 679.7,532.6 677.9,540.1 671.4,556.3 663.9,572.6 671.6,571.7" fill="#c4b841" stroke="#9c9334"/><polygon points="657.3,555.8 653.1,540.6 657.7,547.6 666.2,530.1 675.3,513.4 680.2,506.8 680.8,507.0 678.8,515.1 671.6,532.6 663.4,550.3 671.7,549.5" fill="#d5a93a" stroke="#aa872e"/><polygon points="656.6,532.5 652.6,516.9 657.2,524.1 666.2,506.3 675.7,489.3 680.9,482.6 681.5,482.9 679.3,491.1 671.6,508.9 662.9,526.9 671.5,526.2" fill="#daa538" stroke="#ae842c"/><polygon points="656.2,507.3 652.9,492.2 657.1,499.3 666.3,482.5 676.1,466.5 681.3,460.2 681.8,460.5 679.5,468.3 671.5,485.2 662.5,502.2 670.7,501.8" fill="#d2ac3b" stroke="#a8892f"/><polygon points="657.8,479.9 655.2,467.0 658.6,473.1 666.7,458.9 675.2,445.4 679.7,440.1 680.2,440.4 678.1,447.0 671.1,461.3 663.2,475.7 670.2,475.4" fill="#afbd4d" stroke="#8c973e"/><polygon points="662.7,453.0 659.1,443.3 662.5,447.6 667.1,435.7 672.0,424.2 674.9,419.6 675.3,419.8 674.4,425.1 670.7,437.0 666.4,449.1 671.8,448.0" fill="#78b973" stroke="#60945c"/><polygon points="668.9,428.3 663.0,421.4 667.1,423.9 667.2,412.6 667.8,401.6 668.7,396.9 669.1,396.9 670.0,401.6 670.6,412.6 670.7,423.9 674.8,421.4" fill="#60b08a" stroke="#4d8c6f"/><polygon points="675.1,405.5 666.0,400.5 671.4,401.6 667.1,389.5 663.4,377.6 662.5,372.3 662.9,372.1 665.8,376.7 670.7,388.2 675.3,400.1 678.7,395.8" fill="#78b973" stroke="#60945c"/><polygon points="680.0,384.9 667.6,380.4 674.6,380.7 666.7,366.3 659.7,352.0 657.6,345.4 658.1,345.1 662.6,350.4 671.1,363.9 679.2,378.1 682.6,372.0" fill="#afbd4d" stroke="#8c973e"/><polygon points="681.6,364.8 667.1,359.3 675.3,359.7 666.3,342.7 658.3,325.8 656.0,318.0 656.5,317.7 661.7,324.0 671.5,340.0 680.7,356.8 684.9,349.7" fill="#d2ac3b" stroke="#a8892f"/><polygon points="681.2,342.5 666.3,336.2 674.9,336.9 666.2,318.9 658.5,301.1 656.3,292.9 656.9,292.6 662.1,299.3 671.6,316.3 680.6,334.1 685.2,326.9" fill="#daa538" stroke="#ae842c"/><polygon points="680.5,318.3 666.1,312.0 674.4,312.8 666.2,295.1 659.0,277.6 657.0,269.5 657.6,269.3 662.5,275.9 671.6,292.6 680.1,310.1 684.7,303.1" fill="#d5a93a" stroke="#aa872e"/><polygon points="679.4,292.7 666.2,286.7 673.9,287.6 666.4,271.3 659.9,255.1 658.1,247.6 658.6,247.4 663.2,253.5 671.4,268.9 679.1,285.1 683.4,278.7" fill="#c4b841" stroke="#9c9334"/><polygon points="678.4,263.1 667.9,259.3 673.8,259.5 667.1,247.4 661.0,235.3 659.2,229.8 659.6,229.5 663.4,234.0 670.7,245.3 677.7,257.3 680.6,252.1" fill="#8abb66" stroke="#6f9652"/><polygon points="667.2,197.7 668.4,197.6 667.8,197.8 669.0,198.7 670.1,199.6 670.6,200.0 670.5,200.1 670.0,199.8 668.8,199.0 667.6,198.2 667.5,198.8" fill="#521886" stroke="#320f53"/><polygon points="670.2,176.1 669.2,176.2 669.7,176.0 668.8,175.2 667.9,174.5 667.6,174.1 667.7,174.0 668.1,174.3 669.0,175.0 669.9,175.7 670.0,175.2" fill="#571880" stroke="#350e4d"/><polygon points="692.0,627.3 692.1,626.5 692.1,626.9 692.9,626.2 693.7,625.6 694.0,625.4 694.1,625.4 693.8,625.8 693.1,626.5 692.4,627.1 692.8,627.3" fill="#5a177d" stroke="#360e4a"/><polygon points="694.0,600.6 694.3,601.9 694.0,601.3 693.2,602.7 692.4,604.1 692.0,604.6 692.0,604.6 692.1,603.9 692.8,602.5 693.5,601.0 692.8,601.1" fill="#4e198a" stroke="#311056"/><polygon points="695.5,573.3 696.5,576.7 695.5,575.1 693.6,579.1 691.6,582.9 690.6,584.4 690.4,584.4 690.8,582.6 692.4,578.6 694.2,574.6 692.3,574.8" fill="#3e45be" stroke="#2e348f"/><polygon points="680.0,540.5 673.2,521.1 679.8,529.8 689.4,506.2 699.8,483.7 705.6,474.6 706.4,474.9 704.5,485.5 696.6,509.0 687.4,532.8 698.2,531.0" fill="#e03024" stroke="#b3271d"/><polygon points="674.0,481.0 674.4,464.6 676.9,472.9 690.7,458.0 704.8,444.1 711.8,439.0 712.3,439.4 707.8,446.9 695.3,462.2 681.7,477.3 690.3,479.0" fill="#dea236" stroke="#b2812b"/><polygon points="684.2,451.4 682.4,441.5 684.9,446.2 691.3,435.4 698.1,425.2 701.6,421.2 702.0,421.4 700.2,426.4 694.7,437.3 688.4,448.2 693.8,448.1" fill="#73b877" stroke="#5c935f"/><polygon points="693.0,426.8 687.6,420.5 691.4,422.8 691.4,412.6 692.0,402.7 692.8,398.4 693.2,398.4 694.0,402.7 694.6,412.6 694.6,422.8 698.4,420.5" fill="#57a79f" stroke="#45857f"/><polygon points="701.8,403.9 692.2,400.6 697.6,400.7 691.3,389.8 685.8,378.9 684.0,373.9 684.4,373.7 687.9,377.7 694.7,387.9 701.1,398.7 703.6,394.0" fill="#73b877" stroke="#5c935f"/><polygon points="712.0,386.0 695.7,384.0 704.3,382.3 690.7,367.2 678.2,351.9 673.7,344.4 674.2,344.0 681.2,349.1 695.3,363.0 709.1,377.9 711.6,369.6" fill="#dea236" stroke="#b2812b"/><polygon points="709.4,374.7 689.5,366.2 700.9,367.2 689.3,343.1 679.2,319.2 676.3,308.2 677.0,307.9 684.0,316.9 696.7,339.6 708.6,363.4 714.8,353.8" fill="#dc2222" stroke="#b01b1b"/><polygon points="706.0,350.5 687.8,341.0 698.6,342.8 689.4,319.0 681.5,295.5 679.6,284.9 680.4,284.6 686.2,293.7 696.6,316.2 706.2,339.8 712.8,331.1" fill="#e03024" stroke="#b3271d"/><polygon points="690.5,240.8 693.7,242.3 691.8,242.1 693.6,246.1 695.2,250.1 695.6,251.9 695.4,251.9 694.4,250.4 692.4,246.6 690.5,242.6 689.5,244.2" fill="#3e45be" stroke="#2e348f"/><polygon points="692.0,220.6 693.2,221.1 692.5,221.0 693.2,222.5 693.9,223.9 694.0,224.6 694.0,224.6 693.6,224.1 692.8,222.7 692.0,221.3 691.7,221.9" fill="#4e198a" stroke="#311056"/><polygon points="694.0,199.8 693.2,199.8 693.6,199.6 692.9,199.0 692.2,198.3 691.9,197.9 692.0,197.9 692.3,198.1 693.1,198.7 693.9,199.4 693.9,199.0" fill="#5a177d" stroke="#360e4a"/><polygon points="715.5,604.4 715.5,603.0 715.7,603.7 716.9,602.4 718.1,601.3 718.7,600.8 718.8,600.9 718.4,601.5 717.3,602.8 716.1,604.1 716.9,604.2" fill="#4d198c" stroke="#301058"/><polygon points="716.6,578.7 716.9,578.6 716.8,578.7 717.1,578.8 717.5,578.9 717.6,579.0 717.6,579.0 717.4,579.0 717.1,578.9 716.7,578.8 716.8,579.0" fill="#5e1674" stroke="#360c42"/><polygon points="717.4,553.2 718.0,554.2 717.6,553.8 717.3,555.1 717.0,556.5 716.8,557.0 716.8,557.0 716.7,556.4 716.9,555.1 717.1,553.7 716.6,553.9" fill="#531885" stroke="#330f52"/><polygon points="718.1,527.7 719.1,529.7 718.3,528.8 717.5,531.5 716.7,534.0 716.1,535.0 716.0,535.0 716.1,533.9 716.7,531.2 717.4,528.6 716.3,528.9" fill="#4125a3" stroke="#2c196e"/><polygon points="719.3,500.6 721.0,504.6 719.5,502.8 717.9,507.8 716.0,512.6 714.9,514.6 714.8,514.5 715.0,512.3 716.3,507.4 717.9,502.3 715.7,502.9" fill="#3f57cb" stroke="#3245a1"/><polygon points="695.0,464.3 703.1,454.1 700.7,460.6 716.6,457.7 732.3,455.5 739.2,455.6 739.3,456.1 732.9,458.7 717.6,462.5 701.7,465.7 706.3,470.9" fill="#adbd4f" stroke="#8a973f"/><polygon points="708.2,446.6 708.2,438.7 709.5,442.7 716.0,435.4 722.6,428.5 725.9,426.0 726.1,426.2 724.1,429.8 718.2,437.3 711.9,444.8 716.0,445.5" fill="#54a3a7" stroke="#438286"/><polygon points="717.1,423.8 712.8,418.9 715.8,420.7 715.9,412.6 716.3,404.7 717.0,401.4 717.2,401.4 717.9,404.7 718.3,412.6 718.4,420.7 721.4,418.9" fill="#498dc4" stroke="#3a719d"/><polygon points="726.0,399.1 718.2,398.0 722.3,397.3 716.0,389.8 710.1,382.3 708.1,378.7 708.3,378.5 711.6,381.0 718.2,387.9 724.7,395.2 726.0,391.2" fill="#54a3a7" stroke="#438286"/><polygon points="739.2,369.3 727.9,375.9 732.5,370.7 716.6,367.5 701.3,363.7 694.9,361.1 695.0,360.6 701.9,360.5 717.6,362.7 733.5,365.6 731.1,359.1" fill="#adbd4f" stroke="#8a973f"/><polygon points="714.9,310.6 718.5,312.9 716.3,312.3 717.9,317.4 719.2,322.3 719.4,324.5 719.3,324.6 718.2,322.6 716.3,317.8 714.7,312.8 713.2,314.6" fill="#3f57cb" stroke="#3245a1"/><polygon points="716.1,290.2 717.9,291.4 716.8,291.1 717.5,293.7 718.1,296.4 718.2,297.5 718.1,297.5 717.5,296.5 716.7,294.0 715.9,291.3 715.1,292.2" fill="#4125a3" stroke="#2c196e"/><polygon points="716.8,268.2 717.6,268.9 717.1,268.7 717.3,270.1 717.5,271.4 717.4,272.0 717.4,272.0 717.2,271.5 716.9,270.1 716.6,268.8 716.2,269.2" fill="#531885" stroke="#330f52"/><polygon points="717.6,246.2 717.4,246.5 717.5,246.3 717.1,246.4 716.8,246.5 716.6,246.5 716.6,246.5 716.7,246.4 717.1,246.3 717.4,246.2 717.3,246.1" fill="#5e1674" stroke="#360c42"/><polygon points="718.7,224.4 717.3,224.2 718.1,224.1 716.9,222.8 715.8,221.5 715.4,220.9 715.5,220.8 716.1,221.3 717.3,222.4 718.5,223.7 718.7,223.0" fill="#4d198c" stroke="#301058"/><polygon points="738.9,582.4 738.6,579.9 739.1,581.1 740.8,578.6 742.6,576.2 743.5,575.3 743.6,575.4 743.1,576.6 741.6,579.1 739.9,581.6 741.2,581.7" fill="#402aa9" stroke="#2c1d75"/><polygon points="739.8,557.1 739.6,555.7 739.9,556.4 741.0,554.9 742.1,553.6 742.6,553.1 742.7,553.1 742.3,553.8 741.4,555.3 740.4,556.7 741.2,556.8" fill="#4b198d" stroke="#301059"/><polygon points="740.3,531.9 740.5,531.3 740.5,531.6 741.1,531.2 741.8,530.9 742.1,530.8 742.1,530.8 741.9,531.0 741.3,531.5 740.6,531.9 740.9,532.0" fill="#5e1778" stroke="#370d46"/><polygon points="739.8,506.3 740.9,506.3 740.4,506.5 741.3,507.4 742.3,508.4 742.6,508.9 742.6,508.9 742.1,508.6 741.1,507.8 740.1,506.8 739.9,507.4" fill="#541884" stroke="#330f51"/><polygon points="735.6,480.7 739.3,479.9 737.5,480.9 741.6,483.2 745.4,485.7 746.9,487.0 746.8,487.1 744.9,486.5 740.8,484.5 736.8,482.2 736.8,484.2" fill="#3d4bc2" stroke="#2f3a95"/><polygon points="732.0,463.2 734.9,458.4 734.2,461.3 740.9,459.1 747.4,457.2 750.3,456.8 750.4,457.1 747.8,458.6 741.5,461.1 735.0,463.4 737.3,465.3" fill="#4378cf" stroke="#3660a5"/><polygon points="735.8,444.9 734.9,439.1 736.3,441.9 740.3,435.8 744.4,430.0 746.5,427.7 746.7,427.9 745.6,430.7 742.1,436.9 738.3,443.1 741.4,443.2" fill="#457ecc" stroke="#3765a3"/><polygon points="741.2,422.7 737.4,418.3 740.0,419.9 740.1,412.6 740.5,405.5 741.1,402.5 741.3,402.5 741.9,405.5 742.3,412.6 742.4,419.9 745.0,418.3" fill="#457ecc" stroke="#3765a3"/><polygon points="746.6,397.4 741.0,395.7 744.1,395.6 740.3,389.4 736.8,383.2 735.7,380.4 735.9,380.2 738.0,382.5 742.1,388.3 746.1,394.4 747.5,391.6" fill="#457ecc" stroke="#3765a3"/><polygon points="750.4,368.2 745.1,370.3 747.4,368.4 740.9,366.1 734.6,363.6 732.0,362.1 732.1,361.8 735.0,362.2 741.5,364.1 748.2,366.3 747.5,363.4" fill="#4378cf" stroke="#3660a5"/><polygon points="746.8,338.2 745.6,341.7 745.6,339.7 741.6,342.0 737.5,344.0 735.6,344.6 735.5,344.5 737.0,343.2 740.8,340.7 744.9,338.4 743.1,337.4" fill="#3d4bc2" stroke="#2f3a95"/><polygon points="742.6,316.3 742.5,317.4 742.3,316.8 741.3,317.8 740.3,318.6 739.8,318.9 739.8,318.9 740.1,318.4 741.1,317.4 742.0,316.5 741.5,316.3" fill="#541884" stroke="#330f51"/><polygon points="742.1,294.4 741.5,294.5 741.8,294.4 741.1,294.0 740.5,293.5 740.3,293.3 740.3,293.3 740.6,293.4 741.3,293.7 741.9,294.1 741.9,293.8" fill="#5e1778" stroke="#370d46"/><polygon points="742.6,272.1 741.2,271.8 742.0,271.7 741.0,270.3 740.1,268.8 739.7,268.1 739.8,268.1 740.3,268.6 741.4,269.9 742.5,271.4 742.8,270.7" fill="#4b198d" stroke="#301059"/><polygon points="743.5,249.9 741.2,249.2 742.5,249.1 740.8,246.6 739.3,244.1 738.8,242.9 738.9,242.8 739.8,243.7 741.6,246.1 743.3,248.6 743.8,247.4" fill="#402aa9" stroke="#2c1d75"/><polygon points="763.1,536.4 762.2,533.3 763.1,534.7 764.7,531.1 766.5,527.7 767.4,526.3 767.6,526.4 767.2,528.0 765.9,531.6 764.3,535.2 766.0,535.0" fill="#3e3cb8" stroke="#2d2c87"/><polygon points="762.8,512.9 761.9,509.6 762.9,511.1 764.7,507.3 766.7,503.7 767.7,502.3 767.9,502.4 767.4,504.1 765.9,507.9 764.1,511.7 765.9,511.5" fill="#3e41bc" stroke="#2e308c"/><polygon points="761.5,490.6 760.6,486.2 761.8,488.2 764.6,483.4 767.5,478.9 769.0,477.1 769.2,477.2 768.4,479.4 766.0,484.3 763.3,489.1 765.7,489.0" fill="#405ccf" stroke="#334aa5"/><polygon points="761.1,469.1 759.6,463.5 761.3,466.1 764.3,459.6 767.6,453.5 769.3,451.1 769.6,451.2 768.9,454.1 766.3,460.6 763.3,467.0 766.4,466.7" fill="#447acd" stroke="#3662a4"/><polygon points="762.6,447.7 759.5,441.7 762.1,444.2 764.1,436.1 766.3,428.2 767.8,425.0 768.1,425.0 768.0,428.6 766.5,436.6 764.7,444.8 768.1,443.7" fill="#4b92bf" stroke="#3c7499"/><polygon points="765.3,424.8 760.7,419.5 763.9,421.4 764.0,412.6 764.4,404.0 765.2,400.4 765.4,400.4 766.2,404.0 766.6,412.6 766.7,421.4 769.9,419.5" fill="#4e97b8" stroke="#3e7993"/><polygon points="768.0,400.2 762.5,396.2 765.9,397.3 764.1,389.1 762.6,381.1 762.5,377.5 762.8,377.5 764.3,380.7 766.5,388.6 768.5,396.7 771.1,394.2" fill="#4b92bf" stroke="#3c7499"/><polygon points="769.5,374.1 764.2,371.7 767.3,372.0 764.3,365.6 761.7,359.1 761.0,356.2 761.3,356.1 763.0,358.5 766.3,364.6 769.3,371.1 771.0,368.5" fill="#447acd" stroke="#3662a4"/><polygon points="769.1,348.1 764.9,346.5 767.3,346.6 764.6,341.8 762.2,336.9 761.4,334.7 761.6,334.6 763.1,336.4 766.0,340.9 768.8,345.7 770.0,343.7" fill="#405ccf" stroke="#334aa5"/><polygon points="767.8,322.9 764.7,321.5 766.5,321.7 764.7,317.9 763.2,314.1 762.7,312.4 762.9,312.3 763.9,313.7 765.9,317.3 767.7,321.1 768.7,319.6" fill="#3e41bc" stroke="#2e308c"/><polygon points="767.5,298.9 764.6,297.5 766.3,297.7 764.7,294.1 763.4,290.5 763.0,288.9 763.2,288.8 764.1,290.2 765.9,293.6 767.5,297.2 768.4,295.8" fill="#3e3cb8" stroke="#2d2c87"/><polygon points="789.4,428.8 783.2,421.7 787.5,424.3 787.6,412.6 788.2,401.2 789.2,396.4 789.6,396.4 790.6,401.2 791.2,412.6 791.3,424.3 795.6,421.7" fill="#66b284" stroke="#528f69"/><polygon points="676.6,517.2 671.2,496.3 677.4,505.9 689.3,482.1 702.0,459.4 709.0,450.4 709.7,450.7 706.8,461.7 696.7,485.6 685.1,509.7 696.5,508.7" fill="#dc2222" stroke="#b01b1b"/></g>
<path d="M500.3,216.4 L403.9,216.5 L401.1,216.5 L398.2,216.5 L395.2,216.4 L392.2,216.3 L389.1,216.2 L386.1,216.1 L383.0,216.0 L379.9,216.1 L376.8,216.2 L373.8,216.4 L370.7,216.7 L367.7,217.1 L364.8,217.7 L361.9,218.5 L359.1,219.4 L356.3,220.5 L353.7,221.8 L351.1,223.3 L348.7,225.0 L346.3,226.8 L344.1,228.7 L342.1,230.8 L340.1,233.1 L338.3,235.4 L336.6,237.9 L335.0,240.5 L333.5,243.1 L332.1,245.9 L330.8,248.6 L329.6,251.5 L328.4,254.3 L327.3,257.2 L326.3,260.1 L325.3,263.0 L324.3,265.8 L323.3,268.7 L322.4,271.5 L321.5,274.2 L320.6,276.9 L294.6,353.2 L276.6,345.9 L300.2,273.8 L301.1,271.1 L301.9,268.3 L302.9,265.5 L303.8,262.6 L304.8,259.8 L305.9,257.0 L307.0,254.1 L308.1,251.3 L309.3,248.5 L310.6,245.6 L311.9,242.8 L313.2,240.1 L314.6,237.3 L316.1,234.6 L317.7,232.0 L319.3,229.4 L320.9,226.8 L322.7,224.3 L324.5,221.8 L326.4,219.4 L328.3,217.1 L330.4,214.9 L332.5,212.7 L334.7,210.7 L336.9,208.7 L339.2,206.8 L341.7,205.1 L344.1,203.4 L346.7,201.9 L349.3,200.5 L352.0,199.3 L354.8,198.2 L357.6,197.2 L360.6,196.4 L363.6,195.7 L366.6,195.2 L369.8,194.9 L373.0,194.8 L376.3,194.8 L382.2,194.8 L382.2,126.8 L378.4,128.7 L374.5,130.7 L370.8,132.7 L367.0,134.7 L363.3,136.9 L359.6,139.1 L355.9,141.3 L352.2,143.6 L348.6,146.0 L345.0,148.4 L341.5,150.9 L338.0,153.4 L334.5,156.0 L331.0,158.6 L327.6,161.3 L324.3,164.1 L320.9,166.9 L317.6,169.7 L314.4,172.7 L311.2,175.6 L308.0,178.6 L304.8,181.7 L301.7,184.8 L298.7,187.9 L295.7,191.1 L292.7,194.4 L289.8,197.7 L286.9,201.0 L284.1,204.4 L281.3,207.8 L278.5,211.3 L275.8,214.8 L273.2,218.4 L270.6,222.0 L268.0,225.6 L265.5,229.3 L263.1,233.0 L260.7,236.8 L258.3,240.6 L256.0,244.4 L253.8,248.3 L251.6,252.2 L249.5,256.1 L247.4,260.1 L245.3,264.1 L243.4,268.2 L241.4,272.2 L239.6,276.3 L237.7,280.4 L236.0,284.6 L234.3,288.8 L232.6,293.0 L231.0,297.2 L229.5,301.5 L228.0,305.8 L226.6,310.1 L225.3,314.4 L224.0,318.7 L222.7,323.1 L221.5,327.5 L220.4,331.9 L219.3,336.3 L218.3,340.8 L217.4,345.2 L216.5,349.7 L215.7,354.2 L214.9,358.6 L214.2,363.2 L213.6,367.7 L213.0,372.2 L212.5,376.7 L212.0,381.3 L211.6,385.8 L211.3,390.4 L211.0,394.9 L210.8,399.5 L210.6,404.1 L210.5,408.6 L210.5,413.2 L210.5,413.2 L210.5,417.8 L210.6,422.3 L210.8,426.9 L211.0,431.5 L211.3,436.0 L211.6,440.6 L212.0,445.1 L212.5,449.7 L213.0,454.2 L213.6,458.7 L214.2,463.2 L214.9,467.8 L215.7,472.2 L216.5,476.7 L217.4,481.2 L218.3,485.6 L219.3,490.1 L220.4,494.5 L221.5,498.9 L222.7,503.3 L224.0,507.7 L225.3,512.0 L226.6,516.3 L228.0,520.6 L229.5,524.9 L231.0,529.2 L232.6,533.4 L234.3,537.6 L236.0,541.8 L237.7,546.0 L239.6,550.1 L241.4,554.2 L243.4,558.2 L245.3,562.3 L247.4,566.3 L249.5,570.3 L251.6,574.2 L253.8,578.1 L256.0,582.0 L258.3,585.8 L260.7,589.6 L263.1,593.4 L265.5,597.1 L268.0,600.8 L270.6,604.4 L273.2,608.0 L275.8,611.6 L278.5,615.1 L281.3,618.6 L284.1,622.0 L286.9,625.4 L289.8,628.7 L292.7,632.0 L295.7,635.3 L298.7,638.5 L301.7,641.6 L304.8,644.7 L308.0,647.8 L311.2,650.8 L314.4,653.7 L317.6,656.7 L320.9,659.5 L324.3,662.3 L327.6,665.1 L331.0,667.8 L334.5,670.4 L338.0,673.0 L341.5,675.5 L345.0,678.0 L348.6,680.4 L352.2,682.8 L355.9,685.1 L359.6,687.3 L363.3,689.5 L367.0,691.7 L370.8,693.7 L374.5,695.7 L378.4,697.7 L382.2,699.6 L382.2,631.6 L376.3,631.6 L373.0,631.6 L369.8,631.5 L366.6,631.2 L363.6,630.7 L360.6,630.0 L357.6,629.2 L354.8,628.2 L352.0,627.1 L349.3,625.9 L346.7,624.5 L344.1,623.0 L341.7,621.3 L339.2,619.6 L336.9,617.7 L334.7,615.7 L332.5,613.7 L330.4,611.5 L328.3,609.3 L326.4,607.0 L324.5,604.6 L322.7,602.1 L320.9,599.6 L319.3,597.0 L317.7,594.4 L316.1,591.8 L314.6,589.1 L313.2,586.3 L311.9,583.6 L310.6,580.8 L309.3,577.9 L308.1,575.1 L307.0,572.3 L305.9,569.4 L304.8,566.6 L303.8,563.8 L302.9,560.9 L301.9,558.1 L301.1,555.3 L300.2,552.6 L276.6,480.5 L294.6,473.2 L320.6,549.5 L321.5,552.2 L322.4,554.9 L323.3,557.7 L324.3,560.6 L325.3,563.4 L326.3,566.3 L327.3,569.2 L328.4,572.1 L329.6,574.9 L330.8,577.8 L332.1,580.5 L333.5,583.3 L335.0,585.9 L336.6,588.5 L338.3,591.0 L340.1,593.3 L342.1,595.6 L344.1,597.7 L346.3,599.6 L348.7,601.4 L351.1,603.1 L353.7,604.6 L356.3,605.9 L359.1,607.0 L361.9,607.9 L364.8,608.7 L367.7,609.3 L370.7,609.7 L373.8,610.0 L376.8,610.2 L379.9,610.3 L383.0,610.4 L386.1,610.3 L389.1,610.2 L392.2,610.1 L395.2,610.0 L398.2,609.9 L401.1,609.9 L403.9,609.9 L500.3,610.0 L500.3,610.0 L596.7,609.9 L599.5,609.9 L602.4,609.9 L605.4,610.0 L608.4,610.1 L611.5,610.2 L614.5,610.3 L617.6,610.4 L620.7,610.3 L623.8,610.2 L626.8,610.0 L629.9,609.7 L632.9,609.3 L635.8,608.7 L638.7,607.9 L641.5,607.0 L644.3,605.9 L646.9,604.6 L649.5,603.1 L651.9,601.4 L654.3,599.6 L656.5,597.7 L658.5,595.6 L660.5,593.3 L662.3,591.0 L664.0,588.5 L665.6,585.9 L667.1,583.3 L668.5,580.5 L669.8,577.8 L671.0,574.9 L672.2,572.1 L673.3,569.2 L674.3,566.3 L675.3,563.4 L676.3,560.6 L677.3,557.7 L678.2,554.9 L679.1,552.2 L680.0,549.5 L706.0,473.2 L724.0,480.5 L700.4,552.6 L699.5,555.3 L698.7,558.1 L697.7,560.9 L696.8,563.8 L695.8,566.6 L694.7,569.4 L693.6,572.3 L692.5,575.1 L691.3,577.9 L690.0,580.8 L688.7,583.6 L687.4,586.3 L686.0,589.1 L684.5,591.8 L682.9,594.4 L681.3,597.0 L679.7,599.6 L677.9,602.1 L676.1,604.6 L674.2,607.0 L672.3,609.3 L670.2,611.5 L668.1,613.7 L665.9,615.7 L663.7,617.7 L661.4,619.6 L658.9,621.3 L656.5,623.0 L653.9,624.5 L651.3,625.9 L648.6,627.1 L645.8,628.2 L643.0,629.2 L640.0,630.0 L637.0,630.7 L634.0,631.2 L630.8,631.5 L627.6,631.6 L624.3,631.6 L618.4,631.6 L618.4,699.6 L622.2,697.7 L626.1,695.7 L629.8,693.7 L633.6,691.7 L637.3,689.5 L641.0,687.3 L644.7,685.1 L648.4,682.8 L652.0,680.4 L655.6,678.0 L659.1,675.5 L662.6,673.0 L666.1,670.4 L669.6,667.8 L673.0,665.1 L676.3,662.3 L679.7,659.5 L683.0,656.7 L686.2,653.7 L689.4,650.8 L692.6,647.8 L695.8,644.7 L698.9,641.6 L701.9,638.5 L704.9,635.3 L707.9,632.0 L710.8,628.7 L713.7,625.4 L716.5,622.0 L719.3,618.6 L722.1,615.1 L724.8,611.6 L727.4,608.0 L730.0,604.4 L732.6,600.8 L735.1,597.1 L737.5,593.4 L739.9,589.6 L742.3,585.8 L744.6,582.0 L746.8,578.1 L749.0,574.2 L751.1,570.3 L753.2,566.3 L755.3,562.3 L757.2,558.2 L759.2,554.2 L761.0,550.1 L762.9,546.0 L764.6,541.8 L766.3,537.6 L768.0,533.4 L769.6,529.2 L771.1,524.9 L772.6,520.6 L774.0,516.3 L775.3,512.0 L776.6,507.7 L777.9,503.3 L779.1,498.9 L780.2,494.5 L781.3,490.1 L782.3,485.6 L783.2,481.2 L784.1,476.7 L784.9,472.2 L785.7,467.8 L786.4,463.2 L787.0,458.7 L787.6,454.2 L788.1,449.7 L788.6,445.1 L789.0,440.6 L789.3,436.0 L789.6,431.5 L789.8,426.9 L790.0,422.3 L790.1,417.8 L790.1,413.2 L790.1,413.2 L790.1,408.6 L790.0,404.1 L789.8,399.5 L789.6,394.9 L789.3,390.4 L789.0,385.8 L788.6,381.3 L788.1,376.7 L787.6,372.2 L787.0,367.7 L786.4,363.2 L785.7,358.6 L784.9,354.2 L784.1,349.7 L783.2,345.2 L782.3,340.8 L781.3,336.3 L780.2,331.9 L779.1,327.5 L777.9,323.1 L776.6,318.7 L775.3,314.4 L774.0,310.1 L772.6,305.8 L771.1,301.5 L769.6,297.2 L768.0,293.0 L766.3,288.8 L764.6,284.6 L762.9,280.4 L761.0,276.3 L759.2,272.2 L757.2,268.2 L755.3,264.1 L753.2,260.1 L751.1,256.1 L749.0,252.2 L746.8,248.3 L744.6,244.4 L742.3,240.6 L739.9,236.8 L737.5,233.0 L735.1,229.3 L732.6,225.6 L730.0,222.0 L727.4,218.4 L724.8,214.8 L722.1,211.3 L719.3,207.8 L716.5,204.4 L713.7,201.0 L710.8,197.7 L707.9,194.4 L704.9,191.1 L701.9,187.9 L698.9,184.8 L695.8,181.7 L692.6,178.6 L689.4,175.6 L686.2,172.7 L683.0,169.7 L679.7,166.9 L676.3,164.1 L673.0,161.3 L669.6,158.6 L666.1,156.0 L662.6,153.4 L659.1,150.9 L655.6,148.4 L652.0,146.0 L648.4,143.6 L644.7,141.3 L641.0,139.1 L637.3,136.9 L633.6,134.7 L629.8,132.7 L626.1,130.7 L622.2,128.7 L618.4,126.8 L618.4,194.8 L624.3,194.8 L627.6,194.8 L630.8,194.9 L634.0,195.2 L637.0,195.7 L640.0,196.4 L643.0,197.2 L645.8,198.2 L648.6,199.3 L651.3,200.5 L653.9,201.9 L656.5,203.4 L658.9,205.1 L661.4,206.8 L663.7,208.7 L665.9,210.7 L668.1,212.7 L670.2,214.9 L672.3,217.1 L674.2,219.4 L676.1,221.8 L677.9,224.3 L679.7,226.8 L681.3,229.4 L682.9,232.0 L684.5,234.6 L686.0,237.3 L687.4,240.1 L688.7,242.8 L690.0,245.6 L691.3,248.5 L692.5,251.3 L693.6,254.1 L694.7,257.0 L695.8,259.8 L696.8,262.6 L697.7,265.5 L698.7,268.3 L699.5,271.1 L700.4,273.8 L724.0,345.9 L706.0,353.2 L680.0,276.9 L679.1,274.2 L678.2,271.5 L677.3,268.7 L676.3,265.8 L675.3,263.0 L674.3,260.1 L673.3,257.2 L672.2,254.3 L671.0,251.5 L669.8,248.6 L668.5,245.9 L667.1,243.1 L665.6,240.5 L664.0,237.9 L662.3,235.4 L660.5,233.1 L658.5,230.8 L656.5,228.7 L654.3,226.8 L651.9,225.0 L649.5,223.3 L646.9,221.8 L644.3,220.5 L641.5,219.4 L638.7,218.5 L635.8,217.7 L632.9,217.1 L629.9,216.7 L626.8,216.4 L623.8,216.2 L620.7,216.1 L617.6,216.0 L614.5,216.1 L611.5,216.2 L608.4,216.3 L605.4,216.4 L602.4,216.5 L599.5,216.5 L596.7,216.5 L500.3,216.4Z" fill="none" stroke="#5e81b5" stroke-width="2.9" stroke-linejoin="miter"/>
<rect x="367.1" y="605.2" width="266.4" height="10.6" fill="#000"/>
<rect x="135.0" y="48.5" width="730.3" height="730.7" fill="none" stroke="#5c5c5c" stroke-width="1.3"/>
<path d="M140.0,779.2v-2M140.0,48.5v2M170.0,779.2v-2M170.0,48.5v2M200.0,779.2v-2.5M200.0,48.5v2.5M230.0,779.2v-2M230.0,48.5v2M260.0,779.2v-2M260.0,48.5v2M290.0,779.2v-2M290.0,48.5v2M320.0,779.2v-2M320.0,48.5v2M350.0,779.2v-2.5M350.0,48.5v2.5M380.0,779.2v-2M380.0,48.5v2M410.0,779.2v-2M410.0,48.5v2M440.0,779.2v-2M440.0,48.5v2M470.0,779.2v-2M470.0,48.5v2M500.0,779.2v-2.5M500.0,48.5v2.5M530.0,779.2v-2M530.0,48.5v2M560.0,779.2v-2M560.0,48.5v2M590.0,779.2v-2M590.0,48.5v2M620.0,779.2v-2M620.0,48.5v2M650.0,779.2v-2.5M650.0,48.5v2.5M680.0,779.2v-2M680.0,48.5v2M710.0,779.2v-2M710.0,48.5v2M740.0,779.2v-2M740.0,48.5v2M770.0,779.2v-2M770.0,48.5v2M800.0,779.2v-2.5M800.0,48.5v2.5M830.0,779.2v-2M830.0,48.5v2M860.0,779.2v-2M860.0,48.5v2M135.0,57.8h2M865.3,57.8h-2M135.0,90.1h2.5M865.3,90.1h-2.5M135.0,122.4h2M865.3,122.4h-2M135.0,154.7h2M865.3,154.7h-2M135.0,187.0h2M865.3,187.0h-2M135.0,219.3h2M865.3,219.3h-2M135.0,251.6h2.5M865.3,251.6h-2.5M135.0,283.9h2M865.3,283.9h-2M135.0,316.2h2M865.3,316.2h-2M135.0,348.5h2M865.3,348.5h-2M135.0,380.8h2M865.3,380.8h-2M135.0,413.1h2.5M865.3,413.1h-2.5M135.0,445.4h2M865.3,445.4h-2M135.0,477.7h2M865.3,477.7h-2M135.0,510.0h2M865.3,510.0h-2M135.0,542.3h2M865.3,542.3h-2M135.0,574.6h2.5M865.3,574.6h-2.5M135.0,606.9h2M865.3,606.9h-2M135.0,639.2h2M865.3,639.2h-2M135.0,671.5h2M865.3,671.5h-2M135.0,703.8h2M865.3,703.8h-2M135.0,736.1h2.5M865.3,736.1h-2.5M135.0,768.4h2M865.3,768.4h-2" stroke="#b8b8b8" stroke-width="0.9" fill="none"/>
<text x="201.4" y="813.6" font-family="'Liberation Sans', Arial, sans-serif" font-size="32.8" text-anchor="middle" fill="#000"><tspan dy="2.6">−</tspan><tspan dx="1.6" dy="-2.6">0.02</tspan></text>
<text x="351.4" y="813.6" font-family="'Liberation Sans', Arial, sans-serif" font-size="32.8" text-anchor="middle" fill="#000"><tspan dy="2.6">−</tspan><tspan dx="1.6" dy="-2.6">0.01</tspan></text>
<text x="500.6" y="813.6" font-family="'Liberation Sans', Arial, sans-serif" font-size="32.8" text-anchor="middle" fill="#000">0.00</text>
<text x="650.6" y="813.6" font-family="'Liberation Sans', Arial, sans-serif" font-size="32.8" text-anchor="middle" fill="#000">0.01</text>
<text x="800.6" y="813.6" font-family="'Liberation Sans', Arial, sans-serif" font-size="32.8" text-anchor="middle" fill="#000">0.02</text>
<text x="129.5" y="747.8" font-family="'Liberation Sans', Arial, sans-serif" font-size="32.8" text-anchor="end" fill="#000"><tspan dy="2.6">−</tspan><tspan dx="1.6" dy="-2.6">0.02</tspan></text>
<text x="129.5" y="586.3" font-family="'Liberation Sans', Arial, sans-serif" font-size="32.8" text-anchor="end" fill="#000"><tspan dy="2.6">−</tspan><tspan dx="1.6" dy="-2.6">0.01</tspan></text>
<text x="129.5" y="424.8" font-family="'Liberation Sans', Arial, sans-serif" font-size="32.8" text-anchor="end" fill="#000">0.00</text>
<text x="129.5" y="263.3" font-family="'Liberation Sans', Arial, sans-serif" font-size="32.8" text-anchor="end" fill="#000">0.01</text>
<text x="129.5" y="101.8" font-family="'Liberation Sans', Arial, sans-serif" font-size="32.8" text-anchor="end" fill="#000">0.02</text>
<text x="500" y="855.8" font-family="'Liberation Sans', Arial, sans-serif" font-size="32.8" text-anchor="middle" fill="#000">horizontal dimension [m]</text>
<text transform="translate(31.9,413.4) rotate(-90)" x="0" y="0" font-family="'Liberation Sans', Arial, sans-serif" font-size="32.8" text-anchor="middle" fill="#000">vertical dimension [m]</text>
<defs><linearGradient id="cb" x1="0" y1="0" x2="0" y2="1"><stop offset="0.000" stop-color="#dc2222"/><stop offset="0.015" stop-color="#e02622"/><stop offset="0.100" stop-color="#e2602c"/><stop offset="0.224" stop-color="#e0a035"/><stop offset="0.348" stop-color="#bdbd44"/><stop offset="0.472" stop-color="#90bc62"/><stop offset="0.534" stop-color="#74b876"/><stop offset="0.595" stop-color="#5cae8e"/><stop offset="0.658" stop-color="#52a0ae"/><stop offset="0.720" stop-color="#478ac8"/><stop offset="0.782" stop-color="#4068d4"/><stop offset="0.843" stop-color="#3f4ec8"/><stop offset="0.899" stop-color="#4432be"/><stop offset="0.942" stop-color="#4d1eaa"/><stop offset="1.000" stop-color="#741b8f"/></linearGradient></defs>
<rect x="913.0" y="47.4" width="25.8" height="807.0" fill="url(#cb)"/>
<rect x="913.5" y="47.9" width="24.8" height="806.0" fill="none" stroke="#000" stroke-opacity="0.18" stroke-width="1"/>
<text x="949.2" y="699.3" font-family="'Liberation Sans', Arial, sans-serif" font-size="30.5" fill="#000">50</text>
<text x="949.2" y="511.6" font-family="'Liberation Sans', Arial, sans-serif" font-size="30.5" fill="#000">100</text>
<text x="949.2" y="324.0" font-family="'Liberation Sans', Arial, sans-serif" font-size="30.5" fill="#000">150</text>
<text x="949.2" y="136.3" font-family="'Liberation Sans', Arial, sans-serif" font-size="30.5" fill="#000">200</text>
<text x="894.2" y="25.4" font-family="'Liberation Sans', Arial, sans-serif" font-size="33" fill="#000">Hrf [A/m]</text>
</svg>
</body></html>
